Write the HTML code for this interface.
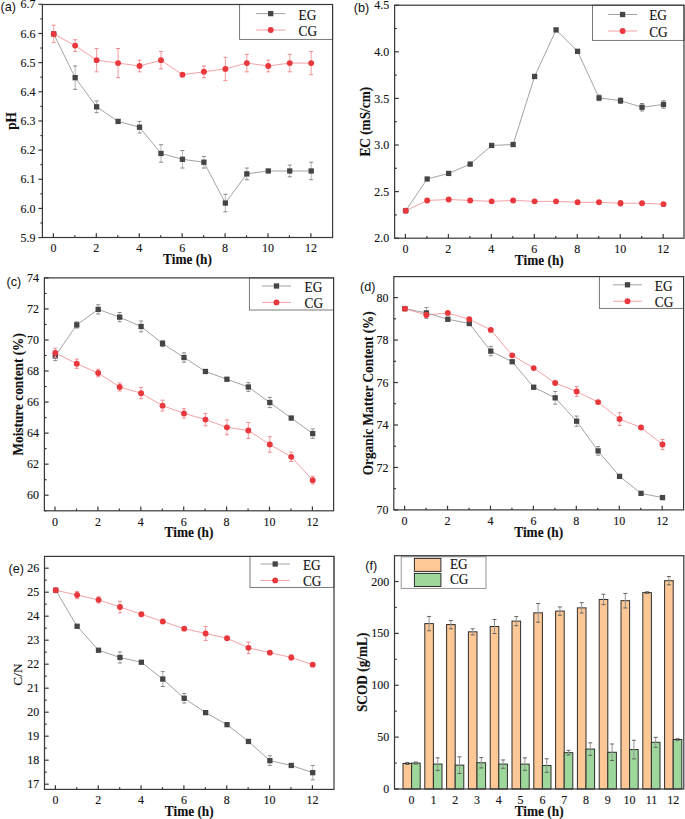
<!DOCTYPE html>
<html><head><meta charset="utf-8"><style>
html,body{margin:0;padding:0;background:#fff;}
body{width:685px;height:819px;overflow:hidden;font-family:"Liberation Serif", serif;}
svg{display:block;}
</style></head><body>
<svg width="685" height="819" viewBox="0 0 685 819">
<rect width="685" height="819" fill="#fff"/>
<line x1="38.4" y1="237.6" x2="42.4" y2="237.6" stroke="#383838" stroke-width="1.2"/>
<text x="0" y="0" font-size="12.0" text-anchor="end" font-weight="normal" font-family='"Liberation Serif", serif' fill="#111" stroke="#111" stroke-width="0.12" transform="translate(35.4 241.7) scale(1 1.12)">5.9</text>
<line x1="38.4" y1="208.44" x2="42.4" y2="208.44" stroke="#383838" stroke-width="1.2"/>
<text x="0" y="0" font-size="12.0" text-anchor="end" font-weight="normal" font-family='"Liberation Serif", serif' fill="#111" stroke="#111" stroke-width="0.12" transform="translate(35.4 212.54) scale(1 1.12)">6.0</text>
<line x1="38.4" y1="179.27" x2="42.4" y2="179.27" stroke="#383838" stroke-width="1.2"/>
<text x="0" y="0" font-size="12.0" text-anchor="end" font-weight="normal" font-family='"Liberation Serif", serif' fill="#111" stroke="#111" stroke-width="0.12" transform="translate(35.4 183.37) scale(1 1.12)">6.1</text>
<line x1="38.4" y1="150.11" x2="42.4" y2="150.11" stroke="#383838" stroke-width="1.2"/>
<text x="0" y="0" font-size="12.0" text-anchor="end" font-weight="normal" font-family='"Liberation Serif", serif' fill="#111" stroke="#111" stroke-width="0.12" transform="translate(35.4 154.21) scale(1 1.12)">6.2</text>
<line x1="38.4" y1="120.95" x2="42.4" y2="120.95" stroke="#383838" stroke-width="1.2"/>
<text x="0" y="0" font-size="12.0" text-anchor="end" font-weight="normal" font-family='"Liberation Serif", serif' fill="#111" stroke="#111" stroke-width="0.12" transform="translate(35.4 125.05) scale(1 1.12)">6.3</text>
<line x1="38.4" y1="91.79" x2="42.4" y2="91.79" stroke="#383838" stroke-width="1.2"/>
<text x="0" y="0" font-size="12.0" text-anchor="end" font-weight="normal" font-family='"Liberation Serif", serif' fill="#111" stroke="#111" stroke-width="0.12" transform="translate(35.4 95.89) scale(1 1.12)">6.4</text>
<line x1="38.4" y1="62.63" x2="42.4" y2="62.63" stroke="#383838" stroke-width="1.2"/>
<text x="0" y="0" font-size="12.0" text-anchor="end" font-weight="normal" font-family='"Liberation Serif", serif' fill="#111" stroke="#111" stroke-width="0.12" transform="translate(35.4 66.73) scale(1 1.12)">6.5</text>
<line x1="38.4" y1="33.46" x2="42.4" y2="33.46" stroke="#383838" stroke-width="1.2"/>
<text x="0" y="0" font-size="12.0" text-anchor="end" font-weight="normal" font-family='"Liberation Serif", serif' fill="#111" stroke="#111" stroke-width="0.12" transform="translate(35.4 37.56) scale(1 1.12)">6.6</text>
<line x1="38.4" y1="4.3" x2="42.4" y2="4.3" stroke="#383838" stroke-width="1.2"/>
<text x="0" y="0" font-size="12.0" text-anchor="end" font-weight="normal" font-family='"Liberation Serif", serif' fill="#111" stroke="#111" stroke-width="0.12" transform="translate(35.4 8.4) scale(1 1.12)">6.7</text>
<line x1="40.4" y1="223.02" x2="42.4" y2="223.02" stroke="#383838" stroke-width="1.2"/>
<line x1="40.4" y1="193.86" x2="42.4" y2="193.86" stroke="#383838" stroke-width="1.2"/>
<line x1="40.4" y1="164.69" x2="42.4" y2="164.69" stroke="#383838" stroke-width="1.2"/>
<line x1="40.4" y1="135.53" x2="42.4" y2="135.53" stroke="#383838" stroke-width="1.2"/>
<line x1="40.4" y1="106.37" x2="42.4" y2="106.37" stroke="#383838" stroke-width="1.2"/>
<line x1="40.4" y1="77.21" x2="42.4" y2="77.21" stroke="#383838" stroke-width="1.2"/>
<line x1="40.4" y1="48.04" x2="42.4" y2="48.04" stroke="#383838" stroke-width="1.2"/>
<line x1="40.4" y1="18.88" x2="42.4" y2="18.88" stroke="#383838" stroke-width="1.2"/>
<line x1="53.4" y1="237.5" x2="53.4" y2="233.3" stroke="#383838" stroke-width="1.2"/>
<line x1="74.86" y1="237.5" x2="74.86" y2="235.3" stroke="#383838" stroke-width="1.2"/>
<line x1="96.32" y1="237.5" x2="96.32" y2="233.3" stroke="#383838" stroke-width="1.2"/>
<line x1="117.78" y1="237.5" x2="117.78" y2="235.3" stroke="#383838" stroke-width="1.2"/>
<line x1="139.23" y1="237.5" x2="139.23" y2="233.3" stroke="#383838" stroke-width="1.2"/>
<line x1="160.69" y1="237.5" x2="160.69" y2="235.3" stroke="#383838" stroke-width="1.2"/>
<line x1="182.15" y1="237.5" x2="182.15" y2="233.3" stroke="#383838" stroke-width="1.2"/>
<line x1="203.61" y1="237.5" x2="203.61" y2="235.3" stroke="#383838" stroke-width="1.2"/>
<line x1="225.07" y1="237.5" x2="225.07" y2="233.3" stroke="#383838" stroke-width="1.2"/>
<line x1="246.53" y1="237.5" x2="246.53" y2="235.3" stroke="#383838" stroke-width="1.2"/>
<line x1="267.98" y1="237.5" x2="267.98" y2="233.3" stroke="#383838" stroke-width="1.2"/>
<line x1="289.44" y1="237.5" x2="289.44" y2="235.3" stroke="#383838" stroke-width="1.2"/>
<line x1="310.9" y1="237.5" x2="310.9" y2="233.3" stroke="#383838" stroke-width="1.2"/>
<text x="0" y="0" font-size="12.0" text-anchor="middle" font-weight="normal" font-family='"Liberation Serif", serif' fill="#111" stroke="#111" stroke-width="0.12" transform="translate(53.4 252.3) scale(1 1.12)">0</text>
<text x="0" y="0" font-size="12.0" text-anchor="middle" font-weight="normal" font-family='"Liberation Serif", serif' fill="#111" stroke="#111" stroke-width="0.12" transform="translate(96.32 252.3) scale(1 1.12)">2</text>
<text x="0" y="0" font-size="12.0" text-anchor="middle" font-weight="normal" font-family='"Liberation Serif", serif' fill="#111" stroke="#111" stroke-width="0.12" transform="translate(139.23 252.3) scale(1 1.12)">4</text>
<text x="0" y="0" font-size="12.0" text-anchor="middle" font-weight="normal" font-family='"Liberation Serif", serif' fill="#111" stroke="#111" stroke-width="0.12" transform="translate(182.15 252.3) scale(1 1.12)">6</text>
<text x="0" y="0" font-size="12.0" text-anchor="middle" font-weight="normal" font-family='"Liberation Serif", serif' fill="#111" stroke="#111" stroke-width="0.12" transform="translate(225.07 252.3) scale(1 1.12)">8</text>
<text x="0" y="0" font-size="12.0" text-anchor="middle" font-weight="normal" font-family='"Liberation Serif", serif' fill="#111" stroke="#111" stroke-width="0.12" transform="translate(267.98 252.3) scale(1 1.12)">10</text>
<text x="0" y="0" font-size="12.0" text-anchor="middle" font-weight="normal" font-family='"Liberation Serif", serif' fill="#111" stroke="#111" stroke-width="0.12" transform="translate(310.9 252.3) scale(1 1.12)">12</text>
<text x="0" y="0" font-size="13.3" text-anchor="middle" font-weight="bold" font-family='"Liberation Serif", serif' fill="#111" stroke="#111" stroke-width="0.1" transform="translate(187.5 264.1) scale(1 1.03)">Time (h)</text>
<rect x="239.6" y="4.5" width="93" height="34.9" fill="#fff" stroke="#6a6a6a" stroke-width="0.9"/>
<line x1="256" y1="13.6" x2="285.4" y2="13.6" stroke="#999999" stroke-width="0.9"/>
<rect x="268.05" y="10.95" width="5.3" height="5.3" fill="#454545"/>
<line x1="256" y1="30" x2="285.4" y2="30" stroke="#f08386" stroke-width="0.75"/>
<circle cx="270.7" cy="30" r="2.95" fill="#e8383d"/>
<text x="0" y="0" font-size="13.3" text-anchor="start" font-weight="normal" font-family='"Liberation Serif", serif' fill="#111" stroke="#111" stroke-width="0.12" transform="translate(298.6 19.5) scale(1 1.12)">EG</text>
<text x="0" y="0" font-size="13.3" text-anchor="start" font-weight="normal" font-family='"Liberation Serif", serif' fill="#111" stroke="#111" stroke-width="0.12" transform="translate(298.6 35.9) scale(1 1.12)">CG</text>
<polyline points="53.7,33.91 75.16,77.66 96.62,106.82 118.08,121.4 139.53,127.23 160.99,153.48 182.45,159.31 203.91,162.23 225.37,203.06 246.83,173.89 268.28,170.98 289.74,170.98 311.2,170.98" fill="none" stroke="#999999" stroke-width="0.9"/>
<line x1="75.16" y1="65.99" x2="75.16" y2="89.32" stroke="#bdbdbd" stroke-width="1.1"/>
<line x1="73.16" y1="65.99" x2="77.16" y2="65.99" stroke="#7a7a7a" stroke-width="0.9"/>
<line x1="73.16" y1="89.32" x2="77.16" y2="89.32" stroke="#7a7a7a" stroke-width="0.9"/>
<line x1="96.62" y1="100.99" x2="96.62" y2="112.65" stroke="#bdbdbd" stroke-width="1.1"/>
<line x1="94.62" y1="100.99" x2="98.62" y2="100.99" stroke="#7a7a7a" stroke-width="0.9"/>
<line x1="94.62" y1="112.65" x2="98.62" y2="112.65" stroke="#7a7a7a" stroke-width="0.9"/>
<line x1="118.08" y1="119.94" x2="118.08" y2="122.86" stroke="#bdbdbd" stroke-width="1.1"/>
<line x1="116.08" y1="119.94" x2="120.08" y2="119.94" stroke="#7a7a7a" stroke-width="0.9"/>
<line x1="116.08" y1="122.86" x2="120.08" y2="122.86" stroke="#7a7a7a" stroke-width="0.9"/>
<line x1="139.53" y1="121.4" x2="139.53" y2="133.06" stroke="#bdbdbd" stroke-width="1.1"/>
<line x1="137.53" y1="121.4" x2="141.53" y2="121.4" stroke="#7a7a7a" stroke-width="0.9"/>
<line x1="137.53" y1="133.06" x2="141.53" y2="133.06" stroke="#7a7a7a" stroke-width="0.9"/>
<line x1="160.99" y1="144.73" x2="160.99" y2="162.23" stroke="#bdbdbd" stroke-width="1.1"/>
<line x1="158.99" y1="144.73" x2="162.99" y2="144.73" stroke="#7a7a7a" stroke-width="0.9"/>
<line x1="158.99" y1="162.23" x2="162.99" y2="162.23" stroke="#7a7a7a" stroke-width="0.9"/>
<line x1="182.45" y1="150.56" x2="182.45" y2="168.06" stroke="#bdbdbd" stroke-width="1.1"/>
<line x1="180.45" y1="150.56" x2="184.45" y2="150.56" stroke="#7a7a7a" stroke-width="0.9"/>
<line x1="180.45" y1="168.06" x2="184.45" y2="168.06" stroke="#7a7a7a" stroke-width="0.9"/>
<line x1="203.91" y1="156.4" x2="203.91" y2="168.06" stroke="#bdbdbd" stroke-width="1.1"/>
<line x1="201.91" y1="156.4" x2="205.91" y2="156.4" stroke="#7a7a7a" stroke-width="0.9"/>
<line x1="201.91" y1="168.06" x2="205.91" y2="168.06" stroke="#7a7a7a" stroke-width="0.9"/>
<line x1="225.37" y1="194.31" x2="225.37" y2="211.8" stroke="#bdbdbd" stroke-width="1.1"/>
<line x1="223.37" y1="194.31" x2="227.37" y2="194.31" stroke="#7a7a7a" stroke-width="0.9"/>
<line x1="223.37" y1="211.8" x2="227.37" y2="211.8" stroke="#7a7a7a" stroke-width="0.9"/>
<line x1="246.83" y1="168.06" x2="246.83" y2="179.72" stroke="#bdbdbd" stroke-width="1.1"/>
<line x1="244.83" y1="168.06" x2="248.83" y2="168.06" stroke="#7a7a7a" stroke-width="0.9"/>
<line x1="244.83" y1="179.72" x2="248.83" y2="179.72" stroke="#7a7a7a" stroke-width="0.9"/>
<line x1="268.28" y1="169.52" x2="268.28" y2="172.43" stroke="#bdbdbd" stroke-width="1.1"/>
<line x1="266.28" y1="169.52" x2="270.28" y2="169.52" stroke="#7a7a7a" stroke-width="0.9"/>
<line x1="266.28" y1="172.43" x2="270.28" y2="172.43" stroke="#7a7a7a" stroke-width="0.9"/>
<line x1="289.74" y1="165.14" x2="289.74" y2="176.81" stroke="#bdbdbd" stroke-width="1.1"/>
<line x1="287.74" y1="165.14" x2="291.74" y2="165.14" stroke="#7a7a7a" stroke-width="0.9"/>
<line x1="287.74" y1="176.81" x2="291.74" y2="176.81" stroke="#7a7a7a" stroke-width="0.9"/>
<line x1="311.2" y1="162.23" x2="311.2" y2="179.73" stroke="#bdbdbd" stroke-width="1.1"/>
<line x1="309.2" y1="162.23" x2="313.2" y2="162.23" stroke="#7a7a7a" stroke-width="0.9"/>
<line x1="309.2" y1="179.73" x2="313.2" y2="179.73" stroke="#7a7a7a" stroke-width="0.9"/>
<rect x="51.05" y="31.26" width="5.3" height="5.3" fill="#454545"/>
<rect x="72.51" y="75.01" width="5.3" height="5.3" fill="#454545"/>
<rect x="93.97" y="104.17" width="5.3" height="5.3" fill="#454545"/>
<rect x="115.42" y="118.75" width="5.3" height="5.3" fill="#454545"/>
<rect x="136.88" y="124.58" width="5.3" height="5.3" fill="#454545"/>
<rect x="158.34" y="150.83" width="5.3" height="5.3" fill="#454545"/>
<rect x="179.8" y="156.66" width="5.3" height="5.3" fill="#454545"/>
<rect x="201.26" y="159.58" width="5.3" height="5.3" fill="#454545"/>
<rect x="222.72" y="200.41" width="5.3" height="5.3" fill="#454545"/>
<rect x="244.18" y="171.24" width="5.3" height="5.3" fill="#454545"/>
<rect x="265.63" y="168.33" width="5.3" height="5.3" fill="#454545"/>
<rect x="287.09" y="168.33" width="5.3" height="5.3" fill="#454545"/>
<rect x="308.55" y="168.33" width="5.3" height="5.3" fill="#454545"/>
<polyline points="53.7,33.91 75.16,45.58 96.62,60.16 118.08,63.08 139.53,65.99 160.99,60.16 182.45,74.74 203.91,71.82 225.37,68.91 246.83,63.08 268.28,65.99 289.74,63.08 311.2,63.08" fill="none" stroke="#f08386" stroke-width="0.75"/>
<line x1="53.7" y1="25.16" x2="53.7" y2="42.66" stroke="#f3a6a8" stroke-width="1.1"/>
<line x1="51.7" y1="25.16" x2="55.7" y2="25.16" stroke="#ee8085" stroke-width="0.9"/>
<line x1="51.7" y1="42.66" x2="55.7" y2="42.66" stroke="#ee8085" stroke-width="0.9"/>
<line x1="75.16" y1="39.75" x2="75.16" y2="51.41" stroke="#f3a6a8" stroke-width="1.1"/>
<line x1="73.16" y1="39.75" x2="77.16" y2="39.75" stroke="#ee8085" stroke-width="0.9"/>
<line x1="73.16" y1="51.41" x2="77.16" y2="51.41" stroke="#ee8085" stroke-width="0.9"/>
<line x1="96.62" y1="48.49" x2="96.62" y2="71.82" stroke="#f3a6a8" stroke-width="1.1"/>
<line x1="94.62" y1="48.49" x2="98.62" y2="48.49" stroke="#ee8085" stroke-width="0.9"/>
<line x1="94.62" y1="71.82" x2="98.62" y2="71.82" stroke="#ee8085" stroke-width="0.9"/>
<line x1="118.08" y1="48.49" x2="118.08" y2="77.66" stroke="#f3a6a8" stroke-width="1.1"/>
<line x1="116.08" y1="48.49" x2="120.08" y2="48.49" stroke="#ee8085" stroke-width="0.9"/>
<line x1="116.08" y1="77.66" x2="120.08" y2="77.66" stroke="#ee8085" stroke-width="0.9"/>
<line x1="139.53" y1="60.16" x2="139.53" y2="71.82" stroke="#f3a6a8" stroke-width="1.1"/>
<line x1="137.53" y1="60.16" x2="141.53" y2="60.16" stroke="#ee8085" stroke-width="0.9"/>
<line x1="137.53" y1="71.82" x2="141.53" y2="71.82" stroke="#ee8085" stroke-width="0.9"/>
<line x1="160.99" y1="51.41" x2="160.99" y2="68.91" stroke="#f3a6a8" stroke-width="1.1"/>
<line x1="158.99" y1="51.41" x2="162.99" y2="51.41" stroke="#ee8085" stroke-width="0.9"/>
<line x1="158.99" y1="68.91" x2="162.99" y2="68.91" stroke="#ee8085" stroke-width="0.9"/>
<line x1="203.91" y1="65.99" x2="203.91" y2="77.66" stroke="#f3a6a8" stroke-width="1.1"/>
<line x1="201.91" y1="65.99" x2="205.91" y2="65.99" stroke="#ee8085" stroke-width="0.9"/>
<line x1="201.91" y1="77.66" x2="205.91" y2="77.66" stroke="#ee8085" stroke-width="0.9"/>
<line x1="225.37" y1="57.24" x2="225.37" y2="80.57" stroke="#f3a6a8" stroke-width="1.1"/>
<line x1="223.37" y1="57.24" x2="227.37" y2="57.24" stroke="#ee8085" stroke-width="0.9"/>
<line x1="223.37" y1="80.57" x2="227.37" y2="80.57" stroke="#ee8085" stroke-width="0.9"/>
<line x1="246.83" y1="54.33" x2="246.83" y2="71.82" stroke="#f3a6a8" stroke-width="1.1"/>
<line x1="244.83" y1="54.33" x2="248.83" y2="54.33" stroke="#ee8085" stroke-width="0.9"/>
<line x1="244.83" y1="71.82" x2="248.83" y2="71.82" stroke="#ee8085" stroke-width="0.9"/>
<line x1="268.28" y1="60.16" x2="268.28" y2="71.82" stroke="#f3a6a8" stroke-width="1.1"/>
<line x1="266.28" y1="60.16" x2="270.28" y2="60.16" stroke="#ee8085" stroke-width="0.9"/>
<line x1="266.28" y1="71.82" x2="270.28" y2="71.82" stroke="#ee8085" stroke-width="0.9"/>
<line x1="289.74" y1="54.33" x2="289.74" y2="71.82" stroke="#f3a6a8" stroke-width="1.1"/>
<line x1="287.74" y1="54.33" x2="291.74" y2="54.33" stroke="#ee8085" stroke-width="0.9"/>
<line x1="287.74" y1="71.82" x2="291.74" y2="71.82" stroke="#ee8085" stroke-width="0.9"/>
<line x1="311.2" y1="51.41" x2="311.2" y2="74.74" stroke="#f3a6a8" stroke-width="1.1"/>
<line x1="309.2" y1="51.41" x2="313.2" y2="51.41" stroke="#ee8085" stroke-width="0.9"/>
<line x1="309.2" y1="74.74" x2="313.2" y2="74.74" stroke="#ee8085" stroke-width="0.9"/>
<circle cx="53.7" cy="33.91" r="2.95" fill="#e8383d"/>
<circle cx="75.16" cy="45.58" r="2.95" fill="#e8383d"/>
<circle cx="96.62" cy="60.16" r="2.95" fill="#e8383d"/>
<circle cx="118.08" cy="63.08" r="2.95" fill="#e8383d"/>
<circle cx="139.53" cy="65.99" r="2.95" fill="#e8383d"/>
<circle cx="160.99" cy="60.16" r="2.95" fill="#e8383d"/>
<circle cx="182.45" cy="74.74" r="2.95" fill="#e8383d"/>
<circle cx="203.91" cy="71.82" r="2.95" fill="#e8383d"/>
<circle cx="225.37" cy="68.91" r="2.95" fill="#e8383d"/>
<circle cx="246.83" cy="63.08" r="2.95" fill="#e8383d"/>
<circle cx="268.28" cy="65.99" r="2.95" fill="#e8383d"/>
<circle cx="289.74" cy="63.08" r="2.95" fill="#e8383d"/>
<circle cx="311.2" cy="63.08" r="2.95" fill="#e8383d"/>
<text x="0" y="0" font-size="12.6" text-anchor="start" font-weight="normal" font-family='"Liberation Sans", sans-serif' fill="#111" transform="translate(0.5 10.9) scale(1 1.0)">(a)</text>
<rect x="42.4" y="4.5" width="290.2" height="233" fill="none" stroke="#383838" stroke-width="1.2"/>
<text x="0" y="0" font-size="13.3" text-anchor="middle" font-weight="bold" font-family='"Liberation Serif", serif' fill="#111" stroke="#111" stroke-width="0.1" transform="translate(15.9 121) rotate(-90) scale(1 1.03)">pH</text>
<line x1="394.6" y1="238.2" x2="398.8" y2="238.2" stroke="#383838" stroke-width="1.2"/>
<text x="0" y="0" font-size="12.0" text-anchor="end" font-weight="normal" font-family='"Liberation Serif", serif' fill="#111" stroke="#111" stroke-width="0.12" transform="translate(389.3 242.3) scale(1 1.12)">2.0</text>
<line x1="394.6" y1="191.6" x2="398.8" y2="191.6" stroke="#383838" stroke-width="1.2"/>
<text x="0" y="0" font-size="12.0" text-anchor="end" font-weight="normal" font-family='"Liberation Serif", serif' fill="#111" stroke="#111" stroke-width="0.12" transform="translate(389.3 195.7) scale(1 1.12)">2.5</text>
<line x1="394.6" y1="145" x2="398.8" y2="145" stroke="#383838" stroke-width="1.2"/>
<text x="0" y="0" font-size="12.0" text-anchor="end" font-weight="normal" font-family='"Liberation Serif", serif' fill="#111" stroke="#111" stroke-width="0.12" transform="translate(389.3 149.1) scale(1 1.12)">3.0</text>
<line x1="394.6" y1="98.4" x2="398.8" y2="98.4" stroke="#383838" stroke-width="1.2"/>
<text x="0" y="0" font-size="12.0" text-anchor="end" font-weight="normal" font-family='"Liberation Serif", serif' fill="#111" stroke="#111" stroke-width="0.12" transform="translate(389.3 102.5) scale(1 1.12)">3.5</text>
<line x1="394.6" y1="51.8" x2="398.8" y2="51.8" stroke="#383838" stroke-width="1.2"/>
<text x="0" y="0" font-size="12.0" text-anchor="end" font-weight="normal" font-family='"Liberation Serif", serif' fill="#111" stroke="#111" stroke-width="0.12" transform="translate(389.3 55.9) scale(1 1.12)">4.0</text>
<line x1="394.6" y1="5.2" x2="398.8" y2="5.2" stroke="#383838" stroke-width="1.2"/>
<text x="0" y="0" font-size="12.0" text-anchor="end" font-weight="normal" font-family='"Liberation Serif", serif' fill="#111" stroke="#111" stroke-width="0.12" transform="translate(389.3 9.3) scale(1 1.12)">4.5</text>
<line x1="394.6" y1="214.9" x2="396.8" y2="214.9" stroke="#383838" stroke-width="1.2"/>
<line x1="394.6" y1="168.3" x2="396.8" y2="168.3" stroke="#383838" stroke-width="1.2"/>
<line x1="394.6" y1="121.7" x2="396.8" y2="121.7" stroke="#383838" stroke-width="1.2"/>
<line x1="394.6" y1="75.1" x2="396.8" y2="75.1" stroke="#383838" stroke-width="1.2"/>
<line x1="394.6" y1="28.5" x2="396.8" y2="28.5" stroke="#383838" stroke-width="1.2"/>
<line x1="405.4" y1="238.2" x2="405.4" y2="234" stroke="#383838" stroke-width="1.2"/>
<line x1="426.88" y1="238.2" x2="426.88" y2="236" stroke="#383838" stroke-width="1.2"/>
<line x1="448.37" y1="238.2" x2="448.37" y2="234" stroke="#383838" stroke-width="1.2"/>
<line x1="469.85" y1="238.2" x2="469.85" y2="236" stroke="#383838" stroke-width="1.2"/>
<line x1="491.33" y1="238.2" x2="491.33" y2="234" stroke="#383838" stroke-width="1.2"/>
<line x1="512.82" y1="238.2" x2="512.82" y2="236" stroke="#383838" stroke-width="1.2"/>
<line x1="534.3" y1="238.2" x2="534.3" y2="234" stroke="#383838" stroke-width="1.2"/>
<line x1="555.78" y1="238.2" x2="555.78" y2="236" stroke="#383838" stroke-width="1.2"/>
<line x1="577.27" y1="238.2" x2="577.27" y2="234" stroke="#383838" stroke-width="1.2"/>
<line x1="598.75" y1="238.2" x2="598.75" y2="236" stroke="#383838" stroke-width="1.2"/>
<line x1="620.23" y1="238.2" x2="620.23" y2="234" stroke="#383838" stroke-width="1.2"/>
<line x1="641.72" y1="238.2" x2="641.72" y2="236" stroke="#383838" stroke-width="1.2"/>
<line x1="663.2" y1="238.2" x2="663.2" y2="234" stroke="#383838" stroke-width="1.2"/>
<text x="0" y="0" font-size="12.0" text-anchor="middle" font-weight="normal" font-family='"Liberation Serif", serif' fill="#111" stroke="#111" stroke-width="0.12" transform="translate(405.4 253) scale(1 1.12)">0</text>
<text x="0" y="0" font-size="12.0" text-anchor="middle" font-weight="normal" font-family='"Liberation Serif", serif' fill="#111" stroke="#111" stroke-width="0.12" transform="translate(448.37 253) scale(1 1.12)">2</text>
<text x="0" y="0" font-size="12.0" text-anchor="middle" font-weight="normal" font-family='"Liberation Serif", serif' fill="#111" stroke="#111" stroke-width="0.12" transform="translate(491.33 253) scale(1 1.12)">4</text>
<text x="0" y="0" font-size="12.0" text-anchor="middle" font-weight="normal" font-family='"Liberation Serif", serif' fill="#111" stroke="#111" stroke-width="0.12" transform="translate(534.3 253) scale(1 1.12)">6</text>
<text x="0" y="0" font-size="12.0" text-anchor="middle" font-weight="normal" font-family='"Liberation Serif", serif' fill="#111" stroke="#111" stroke-width="0.12" transform="translate(577.27 253) scale(1 1.12)">8</text>
<text x="0" y="0" font-size="12.0" text-anchor="middle" font-weight="normal" font-family='"Liberation Serif", serif' fill="#111" stroke="#111" stroke-width="0.12" transform="translate(620.23 253) scale(1 1.12)">10</text>
<text x="0" y="0" font-size="12.0" text-anchor="middle" font-weight="normal" font-family='"Liberation Serif", serif' fill="#111" stroke="#111" stroke-width="0.12" transform="translate(663.2 253) scale(1 1.12)">12</text>
<text x="0" y="0" font-size="13.3" text-anchor="middle" font-weight="bold" font-family='"Liberation Serif", serif' fill="#111" stroke="#111" stroke-width="0.1" transform="translate(539.3 264.8) scale(1 1.03)">Time (h)</text>
<rect x="592.5" y="5.2" width="91.5" height="35.2" fill="#fff" stroke="#6a6a6a" stroke-width="0.9"/>
<line x1="608.1" y1="14.5" x2="637.1" y2="14.5" stroke="#999999" stroke-width="0.9"/>
<rect x="619.95" y="11.85" width="5.3" height="5.3" fill="#454545"/>
<line x1="608.1" y1="31" x2="637.1" y2="31" stroke="#f08386" stroke-width="0.75"/>
<circle cx="622.6" cy="31" r="2.95" fill="#e8383d"/>
<text x="0" y="0" font-size="13.3" text-anchor="start" font-weight="normal" font-family='"Liberation Serif", serif' fill="#111" stroke="#111" stroke-width="0.12" transform="translate(649.2 20.4) scale(1 1.12)">EG</text>
<text x="0" y="0" font-size="13.3" text-anchor="start" font-weight="normal" font-family='"Liberation Serif", serif' fill="#111" stroke="#111" stroke-width="0.12" transform="translate(649.2 36.9) scale(1 1.12)">CG</text>
<polyline points="405.7,210.69 427.18,179 448.67,173.41 470.15,164.09 491.63,145.45 513.12,144.52 534.6,76.48 556.08,29.88 577.57,51.32 599.05,97.92 620.53,100.71 642.02,107.24 663.5,104.44" fill="none" stroke="#999999" stroke-width="0.9"/>
<line x1="599.05" y1="95.12" x2="599.05" y2="100.71" stroke="#bdbdbd" stroke-width="1.1"/>
<line x1="597.05" y1="95.12" x2="601.05" y2="95.12" stroke="#7a7a7a" stroke-width="0.9"/>
<line x1="597.05" y1="100.71" x2="601.05" y2="100.71" stroke="#7a7a7a" stroke-width="0.9"/>
<line x1="620.53" y1="97.92" x2="620.53" y2="103.51" stroke="#bdbdbd" stroke-width="1.1"/>
<line x1="618.53" y1="97.92" x2="622.53" y2="97.92" stroke="#7a7a7a" stroke-width="0.9"/>
<line x1="618.53" y1="103.51" x2="622.53" y2="103.51" stroke="#7a7a7a" stroke-width="0.9"/>
<line x1="642.02" y1="103.51" x2="642.02" y2="110.97" stroke="#bdbdbd" stroke-width="1.1"/>
<line x1="640.02" y1="103.51" x2="644.02" y2="103.51" stroke="#7a7a7a" stroke-width="0.9"/>
<line x1="640.02" y1="110.97" x2="644.02" y2="110.97" stroke="#7a7a7a" stroke-width="0.9"/>
<line x1="663.5" y1="100.71" x2="663.5" y2="108.17" stroke="#bdbdbd" stroke-width="1.1"/>
<line x1="661.5" y1="100.71" x2="665.5" y2="100.71" stroke="#7a7a7a" stroke-width="0.9"/>
<line x1="661.5" y1="108.17" x2="665.5" y2="108.17" stroke="#7a7a7a" stroke-width="0.9"/>
<rect x="403.05" y="208.04" width="5.3" height="5.3" fill="#454545"/>
<rect x="424.53" y="176.35" width="5.3" height="5.3" fill="#454545"/>
<rect x="446.02" y="170.76" width="5.3" height="5.3" fill="#454545"/>
<rect x="467.5" y="161.44" width="5.3" height="5.3" fill="#454545"/>
<rect x="488.98" y="142.8" width="5.3" height="5.3" fill="#454545"/>
<rect x="510.47" y="141.87" width="5.3" height="5.3" fill="#454545"/>
<rect x="531.95" y="73.83" width="5.3" height="5.3" fill="#454545"/>
<rect x="553.43" y="27.23" width="5.3" height="5.3" fill="#454545"/>
<rect x="574.92" y="48.67" width="5.3" height="5.3" fill="#454545"/>
<rect x="596.4" y="95.27" width="5.3" height="5.3" fill="#454545"/>
<rect x="617.88" y="98.06" width="5.3" height="5.3" fill="#454545"/>
<rect x="639.37" y="104.59" width="5.3" height="5.3" fill="#454545"/>
<rect x="660.85" y="101.79" width="5.3" height="5.3" fill="#454545"/>
<polyline points="405.7,210.69 427.18,200.44 448.67,199.51 470.15,200.44 491.63,201.37 513.12,200.44 534.6,201.37 556.08,201.37 577.57,202.3 599.05,202.3 620.53,203.23 642.02,203.23 663.5,204.17" fill="none" stroke="#f08386" stroke-width="0.75"/>
<line x1="620.53" y1="200.44" x2="620.53" y2="206.03" stroke="#f3a6a8" stroke-width="1.1"/>
<line x1="618.53" y1="200.44" x2="622.53" y2="200.44" stroke="#ee8085" stroke-width="0.9"/>
<line x1="618.53" y1="206.03" x2="622.53" y2="206.03" stroke="#ee8085" stroke-width="0.9"/>
<circle cx="405.7" cy="210.69" r="2.95" fill="#e8383d"/>
<circle cx="427.18" cy="200.44" r="2.95" fill="#e8383d"/>
<circle cx="448.67" cy="199.51" r="2.95" fill="#e8383d"/>
<circle cx="470.15" cy="200.44" r="2.95" fill="#e8383d"/>
<circle cx="491.63" cy="201.37" r="2.95" fill="#e8383d"/>
<circle cx="513.12" cy="200.44" r="2.95" fill="#e8383d"/>
<circle cx="534.6" cy="201.37" r="2.95" fill="#e8383d"/>
<circle cx="556.08" cy="201.37" r="2.95" fill="#e8383d"/>
<circle cx="577.57" cy="202.3" r="2.95" fill="#e8383d"/>
<circle cx="599.05" cy="202.3" r="2.95" fill="#e8383d"/>
<circle cx="620.53" cy="203.23" r="2.95" fill="#e8383d"/>
<circle cx="642.02" cy="203.23" r="2.95" fill="#e8383d"/>
<circle cx="663.5" cy="204.17" r="2.95" fill="#e8383d"/>
<text x="0" y="0" font-size="12.6" text-anchor="start" font-weight="normal" font-family='"Liberation Sans", sans-serif' fill="#111" transform="translate(353.8 11.7) scale(1 1.0)">(b)</text>
<rect x="394.6" y="5.2" width="289.4" height="233" fill="none" stroke="#383838" stroke-width="1.2"/>
<text x="0" y="0" font-size="13.3" text-anchor="middle" font-weight="bold" font-family='"Liberation Serif", serif' fill="#111" stroke="#111" stroke-width="0.1" transform="translate(369.5 121.7) rotate(-90) scale(1 1.03)">EC (mS/cm)</text>
<line x1="44.4" y1="495.2" x2="48.6" y2="495.2" stroke="#383838" stroke-width="1.2"/>
<text x="0" y="0" font-size="12.0" text-anchor="end" font-weight="normal" font-family='"Liberation Serif", serif' fill="#111" stroke="#111" stroke-width="0.12" transform="translate(39.1 499.3) scale(1 1.12)">60</text>
<line x1="44.4" y1="464.16" x2="48.6" y2="464.16" stroke="#383838" stroke-width="1.2"/>
<text x="0" y="0" font-size="12.0" text-anchor="end" font-weight="normal" font-family='"Liberation Serif", serif' fill="#111" stroke="#111" stroke-width="0.12" transform="translate(39.1 468.26) scale(1 1.12)">62</text>
<line x1="44.4" y1="433.11" x2="48.6" y2="433.11" stroke="#383838" stroke-width="1.2"/>
<text x="0" y="0" font-size="12.0" text-anchor="end" font-weight="normal" font-family='"Liberation Serif", serif' fill="#111" stroke="#111" stroke-width="0.12" transform="translate(39.1 437.21) scale(1 1.12)">64</text>
<line x1="44.4" y1="402.07" x2="48.6" y2="402.07" stroke="#383838" stroke-width="1.2"/>
<text x="0" y="0" font-size="12.0" text-anchor="end" font-weight="normal" font-family='"Liberation Serif", serif' fill="#111" stroke="#111" stroke-width="0.12" transform="translate(39.1 406.17) scale(1 1.12)">66</text>
<line x1="44.4" y1="371.03" x2="48.6" y2="371.03" stroke="#383838" stroke-width="1.2"/>
<text x="0" y="0" font-size="12.0" text-anchor="end" font-weight="normal" font-family='"Liberation Serif", serif' fill="#111" stroke="#111" stroke-width="0.12" transform="translate(39.1 375.13) scale(1 1.12)">68</text>
<line x1="44.4" y1="339.99" x2="48.6" y2="339.99" stroke="#383838" stroke-width="1.2"/>
<text x="0" y="0" font-size="12.0" text-anchor="end" font-weight="normal" font-family='"Liberation Serif", serif' fill="#111" stroke="#111" stroke-width="0.12" transform="translate(39.1 344.09) scale(1 1.12)">70</text>
<line x1="44.4" y1="308.94" x2="48.6" y2="308.94" stroke="#383838" stroke-width="1.2"/>
<text x="0" y="0" font-size="12.0" text-anchor="end" font-weight="normal" font-family='"Liberation Serif", serif' fill="#111" stroke="#111" stroke-width="0.12" transform="translate(39.1 313.04) scale(1 1.12)">72</text>
<line x1="44.4" y1="277.9" x2="48.6" y2="277.9" stroke="#383838" stroke-width="1.2"/>
<text x="0" y="0" font-size="12.0" text-anchor="end" font-weight="normal" font-family='"Liberation Serif", serif' fill="#111" stroke="#111" stroke-width="0.12" transform="translate(39.1 282) scale(1 1.12)">74</text>
<line x1="44.4" y1="510.72" x2="46.6" y2="510.72" stroke="#383838" stroke-width="1.2"/>
<line x1="44.4" y1="479.68" x2="46.6" y2="479.68" stroke="#383838" stroke-width="1.2"/>
<line x1="44.4" y1="448.64" x2="46.6" y2="448.64" stroke="#383838" stroke-width="1.2"/>
<line x1="44.4" y1="417.59" x2="46.6" y2="417.59" stroke="#383838" stroke-width="1.2"/>
<line x1="44.4" y1="386.55" x2="46.6" y2="386.55" stroke="#383838" stroke-width="1.2"/>
<line x1="44.4" y1="355.51" x2="46.6" y2="355.51" stroke="#383838" stroke-width="1.2"/>
<line x1="44.4" y1="324.46" x2="46.6" y2="324.46" stroke="#383838" stroke-width="1.2"/>
<line x1="44.4" y1="293.42" x2="46.6" y2="293.42" stroke="#383838" stroke-width="1.2"/>
<line x1="55" y1="510.8" x2="55" y2="506.6" stroke="#383838" stroke-width="1.2"/>
<line x1="76.45" y1="510.8" x2="76.45" y2="508.6" stroke="#383838" stroke-width="1.2"/>
<line x1="97.9" y1="510.8" x2="97.9" y2="506.6" stroke="#383838" stroke-width="1.2"/>
<line x1="119.35" y1="510.8" x2="119.35" y2="508.6" stroke="#383838" stroke-width="1.2"/>
<line x1="140.8" y1="510.8" x2="140.8" y2="506.6" stroke="#383838" stroke-width="1.2"/>
<line x1="162.25" y1="510.8" x2="162.25" y2="508.6" stroke="#383838" stroke-width="1.2"/>
<line x1="183.7" y1="510.8" x2="183.7" y2="506.6" stroke="#383838" stroke-width="1.2"/>
<line x1="205.15" y1="510.8" x2="205.15" y2="508.6" stroke="#383838" stroke-width="1.2"/>
<line x1="226.6" y1="510.8" x2="226.6" y2="506.6" stroke="#383838" stroke-width="1.2"/>
<line x1="248.05" y1="510.8" x2="248.05" y2="508.6" stroke="#383838" stroke-width="1.2"/>
<line x1="269.5" y1="510.8" x2="269.5" y2="506.6" stroke="#383838" stroke-width="1.2"/>
<line x1="290.95" y1="510.8" x2="290.95" y2="508.6" stroke="#383838" stroke-width="1.2"/>
<line x1="312.4" y1="510.8" x2="312.4" y2="506.6" stroke="#383838" stroke-width="1.2"/>
<text x="0" y="0" font-size="12.0" text-anchor="middle" font-weight="normal" font-family='"Liberation Serif", serif' fill="#111" stroke="#111" stroke-width="0.12" transform="translate(55 525.6) scale(1 1.12)">0</text>
<text x="0" y="0" font-size="12.0" text-anchor="middle" font-weight="normal" font-family='"Liberation Serif", serif' fill="#111" stroke="#111" stroke-width="0.12" transform="translate(97.9 525.6) scale(1 1.12)">2</text>
<text x="0" y="0" font-size="12.0" text-anchor="middle" font-weight="normal" font-family='"Liberation Serif", serif' fill="#111" stroke="#111" stroke-width="0.12" transform="translate(140.8 525.6) scale(1 1.12)">4</text>
<text x="0" y="0" font-size="12.0" text-anchor="middle" font-weight="normal" font-family='"Liberation Serif", serif' fill="#111" stroke="#111" stroke-width="0.12" transform="translate(183.7 525.6) scale(1 1.12)">6</text>
<text x="0" y="0" font-size="12.0" text-anchor="middle" font-weight="normal" font-family='"Liberation Serif", serif' fill="#111" stroke="#111" stroke-width="0.12" transform="translate(226.6 525.6) scale(1 1.12)">8</text>
<text x="0" y="0" font-size="12.0" text-anchor="middle" font-weight="normal" font-family='"Liberation Serif", serif' fill="#111" stroke="#111" stroke-width="0.12" transform="translate(269.5 525.6) scale(1 1.12)">10</text>
<text x="0" y="0" font-size="12.0" text-anchor="middle" font-weight="normal" font-family='"Liberation Serif", serif' fill="#111" stroke="#111" stroke-width="0.12" transform="translate(312.4 525.6) scale(1 1.12)">12</text>
<text x="0" y="0" font-size="13.3" text-anchor="middle" font-weight="bold" font-family='"Liberation Serif", serif' fill="#111" stroke="#111" stroke-width="0.1" transform="translate(189 537.4) scale(1 1.03)">Time (h)</text>
<rect x="249.4" y="277.9" width="84.2" height="32.1" fill="#fff" stroke="#6a6a6a" stroke-width="0.9"/>
<line x1="262" y1="286" x2="291" y2="286" stroke="#999999" stroke-width="0.9"/>
<rect x="273.85" y="283.35" width="5.3" height="5.3" fill="#454545"/>
<line x1="262" y1="302.4" x2="291" y2="302.4" stroke="#f08386" stroke-width="0.75"/>
<circle cx="276.5" cy="302.4" r="2.95" fill="#e8383d"/>
<text x="0" y="0" font-size="13.3" text-anchor="start" font-weight="normal" font-family='"Liberation Serif", serif' fill="#111" stroke="#111" stroke-width="0.12" transform="translate(304.6 291.9) scale(1 1.12)">EG</text>
<text x="0" y="0" font-size="13.3" text-anchor="start" font-weight="normal" font-family='"Liberation Serif", serif' fill="#111" stroke="#111" stroke-width="0.12" transform="translate(304.6 308.3) scale(1 1.12)">CG</text>
<polyline points="55.3,355.96 76.75,324.91 98.2,309.39 119.65,317.15 141.1,326.47 162.55,343.54 184,357.51 205.45,371.48 226.9,379.24 248.35,387 269.8,402.52 291.25,418.04 312.7,433.56" fill="none" stroke="#999999" stroke-width="0.9"/>
<line x1="55.3" y1="351.3" x2="55.3" y2="360.61" stroke="#bdbdbd" stroke-width="1.1"/>
<line x1="53.3" y1="351.3" x2="57.3" y2="351.3" stroke="#7a7a7a" stroke-width="0.9"/>
<line x1="53.3" y1="360.61" x2="57.3" y2="360.61" stroke="#7a7a7a" stroke-width="0.9"/>
<line x1="76.75" y1="321.81" x2="76.75" y2="328.02" stroke="#bdbdbd" stroke-width="1.1"/>
<line x1="74.75" y1="321.81" x2="78.75" y2="321.81" stroke="#7a7a7a" stroke-width="0.9"/>
<line x1="74.75" y1="328.02" x2="78.75" y2="328.02" stroke="#7a7a7a" stroke-width="0.9"/>
<line x1="98.2" y1="304.74" x2="98.2" y2="314.05" stroke="#bdbdbd" stroke-width="1.1"/>
<line x1="96.2" y1="304.74" x2="100.2" y2="304.74" stroke="#7a7a7a" stroke-width="0.9"/>
<line x1="96.2" y1="314.05" x2="100.2" y2="314.05" stroke="#7a7a7a" stroke-width="0.9"/>
<line x1="119.65" y1="312.5" x2="119.65" y2="321.81" stroke="#bdbdbd" stroke-width="1.1"/>
<line x1="117.65" y1="312.5" x2="121.65" y2="312.5" stroke="#7a7a7a" stroke-width="0.9"/>
<line x1="117.65" y1="321.81" x2="121.65" y2="321.81" stroke="#7a7a7a" stroke-width="0.9"/>
<line x1="141.1" y1="321.03" x2="141.1" y2="331.9" stroke="#bdbdbd" stroke-width="1.1"/>
<line x1="139.1" y1="321.03" x2="143.1" y2="321.03" stroke="#7a7a7a" stroke-width="0.9"/>
<line x1="139.1" y1="331.9" x2="143.1" y2="331.9" stroke="#7a7a7a" stroke-width="0.9"/>
<line x1="162.55" y1="340.44" x2="162.55" y2="346.64" stroke="#bdbdbd" stroke-width="1.1"/>
<line x1="160.55" y1="340.44" x2="164.55" y2="340.44" stroke="#7a7a7a" stroke-width="0.9"/>
<line x1="160.55" y1="346.64" x2="164.55" y2="346.64" stroke="#7a7a7a" stroke-width="0.9"/>
<line x1="184" y1="352.85" x2="184" y2="362.17" stroke="#bdbdbd" stroke-width="1.1"/>
<line x1="182" y1="352.85" x2="186" y2="352.85" stroke="#7a7a7a" stroke-width="0.9"/>
<line x1="182" y1="362.17" x2="186" y2="362.17" stroke="#7a7a7a" stroke-width="0.9"/>
<line x1="226.9" y1="377.69" x2="226.9" y2="380.79" stroke="#bdbdbd" stroke-width="1.1"/>
<line x1="224.9" y1="377.69" x2="228.9" y2="377.69" stroke="#7a7a7a" stroke-width="0.9"/>
<line x1="224.9" y1="380.79" x2="228.9" y2="380.79" stroke="#7a7a7a" stroke-width="0.9"/>
<line x1="248.35" y1="382.65" x2="248.35" y2="391.35" stroke="#bdbdbd" stroke-width="1.1"/>
<line x1="246.35" y1="382.65" x2="250.35" y2="382.65" stroke="#7a7a7a" stroke-width="0.9"/>
<line x1="246.35" y1="391.35" x2="250.35" y2="391.35" stroke="#7a7a7a" stroke-width="0.9"/>
<line x1="269.8" y1="397.4" x2="269.8" y2="407.64" stroke="#bdbdbd" stroke-width="1.1"/>
<line x1="267.8" y1="397.4" x2="271.8" y2="397.4" stroke="#7a7a7a" stroke-width="0.9"/>
<line x1="267.8" y1="407.64" x2="271.8" y2="407.64" stroke="#7a7a7a" stroke-width="0.9"/>
<line x1="312.7" y1="428.91" x2="312.7" y2="438.22" stroke="#bdbdbd" stroke-width="1.1"/>
<line x1="310.7" y1="428.91" x2="314.7" y2="428.91" stroke="#7a7a7a" stroke-width="0.9"/>
<line x1="310.7" y1="438.22" x2="314.7" y2="438.22" stroke="#7a7a7a" stroke-width="0.9"/>
<rect x="52.65" y="353.31" width="5.3" height="5.3" fill="#454545"/>
<rect x="74.1" y="322.26" width="5.3" height="5.3" fill="#454545"/>
<rect x="95.55" y="306.74" width="5.3" height="5.3" fill="#454545"/>
<rect x="117" y="314.5" width="5.3" height="5.3" fill="#454545"/>
<rect x="138.45" y="323.82" width="5.3" height="5.3" fill="#454545"/>
<rect x="159.9" y="340.89" width="5.3" height="5.3" fill="#454545"/>
<rect x="181.35" y="354.86" width="5.3" height="5.3" fill="#454545"/>
<rect x="202.8" y="368.83" width="5.3" height="5.3" fill="#454545"/>
<rect x="224.25" y="376.59" width="5.3" height="5.3" fill="#454545"/>
<rect x="245.7" y="384.35" width="5.3" height="5.3" fill="#454545"/>
<rect x="267.15" y="399.87" width="5.3" height="5.3" fill="#454545"/>
<rect x="288.6" y="415.39" width="5.3" height="5.3" fill="#454545"/>
<rect x="310.05" y="430.91" width="5.3" height="5.3" fill="#454545"/>
<polyline points="55.3,352.85 76.75,363.72 98.2,373.03 119.65,387 141.1,393.21 162.55,405.63 184,413.39 205.45,419.59 226.9,427.36 248.35,430.46 269.8,444.43 291.25,456.85 312.7,480.13" fill="none" stroke="#f08386" stroke-width="0.75"/>
<line x1="55.3" y1="348.2" x2="55.3" y2="357.51" stroke="#f3a6a8" stroke-width="1.1"/>
<line x1="53.3" y1="348.2" x2="57.3" y2="348.2" stroke="#ee8085" stroke-width="0.9"/>
<line x1="53.3" y1="357.51" x2="57.3" y2="357.51" stroke="#ee8085" stroke-width="0.9"/>
<line x1="76.75" y1="359.06" x2="76.75" y2="368.37" stroke="#f3a6a8" stroke-width="1.1"/>
<line x1="74.75" y1="359.06" x2="78.75" y2="359.06" stroke="#ee8085" stroke-width="0.9"/>
<line x1="74.75" y1="368.37" x2="78.75" y2="368.37" stroke="#ee8085" stroke-width="0.9"/>
<line x1="98.2" y1="369.31" x2="98.2" y2="376.76" stroke="#f3a6a8" stroke-width="1.1"/>
<line x1="96.2" y1="369.31" x2="100.2" y2="369.31" stroke="#ee8085" stroke-width="0.9"/>
<line x1="96.2" y1="376.76" x2="100.2" y2="376.76" stroke="#ee8085" stroke-width="0.9"/>
<line x1="119.65" y1="382.96" x2="119.65" y2="391.04" stroke="#f3a6a8" stroke-width="1.1"/>
<line x1="117.65" y1="382.96" x2="121.65" y2="382.96" stroke="#ee8085" stroke-width="0.9"/>
<line x1="117.65" y1="391.04" x2="121.65" y2="391.04" stroke="#ee8085" stroke-width="0.9"/>
<line x1="141.1" y1="387.62" x2="141.1" y2="398.8" stroke="#f3a6a8" stroke-width="1.1"/>
<line x1="139.1" y1="387.62" x2="143.1" y2="387.62" stroke="#ee8085" stroke-width="0.9"/>
<line x1="139.1" y1="398.8" x2="143.1" y2="398.8" stroke="#ee8085" stroke-width="0.9"/>
<line x1="162.55" y1="400.19" x2="162.55" y2="411.06" stroke="#f3a6a8" stroke-width="1.1"/>
<line x1="160.55" y1="400.19" x2="164.55" y2="400.19" stroke="#ee8085" stroke-width="0.9"/>
<line x1="160.55" y1="411.06" x2="164.55" y2="411.06" stroke="#ee8085" stroke-width="0.9"/>
<line x1="184" y1="408.73" x2="184" y2="418.04" stroke="#f3a6a8" stroke-width="1.1"/>
<line x1="182" y1="408.73" x2="186" y2="408.73" stroke="#ee8085" stroke-width="0.9"/>
<line x1="182" y1="418.04" x2="186" y2="418.04" stroke="#ee8085" stroke-width="0.9"/>
<line x1="205.45" y1="413.39" x2="205.45" y2="425.8" stroke="#f3a6a8" stroke-width="1.1"/>
<line x1="203.45" y1="413.39" x2="207.45" y2="413.39" stroke="#ee8085" stroke-width="0.9"/>
<line x1="203.45" y1="425.8" x2="207.45" y2="425.8" stroke="#ee8085" stroke-width="0.9"/>
<line x1="226.9" y1="419.91" x2="226.9" y2="434.81" stroke="#f3a6a8" stroke-width="1.1"/>
<line x1="224.9" y1="419.91" x2="228.9" y2="419.91" stroke="#ee8085" stroke-width="0.9"/>
<line x1="224.9" y1="434.81" x2="228.9" y2="434.81" stroke="#ee8085" stroke-width="0.9"/>
<line x1="248.35" y1="422.39" x2="248.35" y2="438.53" stroke="#f3a6a8" stroke-width="1.1"/>
<line x1="246.35" y1="422.39" x2="250.35" y2="422.39" stroke="#ee8085" stroke-width="0.9"/>
<line x1="246.35" y1="438.53" x2="250.35" y2="438.53" stroke="#ee8085" stroke-width="0.9"/>
<line x1="269.8" y1="436.67" x2="269.8" y2="452.19" stroke="#f3a6a8" stroke-width="1.1"/>
<line x1="267.8" y1="436.67" x2="271.8" y2="436.67" stroke="#ee8085" stroke-width="0.9"/>
<line x1="267.8" y1="452.19" x2="271.8" y2="452.19" stroke="#ee8085" stroke-width="0.9"/>
<line x1="291.25" y1="452.19" x2="291.25" y2="461.5" stroke="#f3a6a8" stroke-width="1.1"/>
<line x1="289.25" y1="452.19" x2="293.25" y2="452.19" stroke="#ee8085" stroke-width="0.9"/>
<line x1="289.25" y1="461.5" x2="293.25" y2="461.5" stroke="#ee8085" stroke-width="0.9"/>
<line x1="312.7" y1="476.25" x2="312.7" y2="484.01" stroke="#f3a6a8" stroke-width="1.1"/>
<line x1="310.7" y1="476.25" x2="314.7" y2="476.25" stroke="#ee8085" stroke-width="0.9"/>
<line x1="310.7" y1="484.01" x2="314.7" y2="484.01" stroke="#ee8085" stroke-width="0.9"/>
<circle cx="55.3" cy="352.85" r="2.95" fill="#e8383d"/>
<circle cx="76.75" cy="363.72" r="2.95" fill="#e8383d"/>
<circle cx="98.2" cy="373.03" r="2.95" fill="#e8383d"/>
<circle cx="119.65" cy="387" r="2.95" fill="#e8383d"/>
<circle cx="141.1" cy="393.21" r="2.95" fill="#e8383d"/>
<circle cx="162.55" cy="405.63" r="2.95" fill="#e8383d"/>
<circle cx="184" cy="413.39" r="2.95" fill="#e8383d"/>
<circle cx="205.45" cy="419.59" r="2.95" fill="#e8383d"/>
<circle cx="226.9" cy="427.36" r="2.95" fill="#e8383d"/>
<circle cx="248.35" cy="430.46" r="2.95" fill="#e8383d"/>
<circle cx="269.8" cy="444.43" r="2.95" fill="#e8383d"/>
<circle cx="291.25" cy="456.85" r="2.95" fill="#e8383d"/>
<circle cx="312.7" cy="480.13" r="2.95" fill="#e8383d"/>
<text x="0" y="0" font-size="12.6" text-anchor="start" font-weight="normal" font-family='"Liberation Sans", sans-serif' fill="#111" transform="translate(6.5 286) scale(1 1.0)">(c)</text>
<rect x="44.4" y="277.9" width="289.2" height="232.9" fill="none" stroke="#383838" stroke-width="1.2"/>
<text x="0" y="0" font-size="13.3" text-anchor="middle" font-weight="bold" font-family='"Liberation Serif", serif' fill="#111" stroke="#111" stroke-width="0.1" transform="translate(22.8 394.35) rotate(-90) scale(1 1.03)">Moisture content (%)</text>
<line x1="393.8" y1="509.9" x2="398" y2="509.9" stroke="#383838" stroke-width="1.2"/>
<text x="0" y="0" font-size="12.0" text-anchor="end" font-weight="normal" font-family='"Liberation Serif", serif' fill="#111" stroke="#111" stroke-width="0.12" transform="translate(388.5 514) scale(1 1.12)">70</text>
<line x1="393.8" y1="467.44" x2="398" y2="467.44" stroke="#383838" stroke-width="1.2"/>
<text x="0" y="0" font-size="12.0" text-anchor="end" font-weight="normal" font-family='"Liberation Serif", serif' fill="#111" stroke="#111" stroke-width="0.12" transform="translate(388.5 471.54) scale(1 1.12)">72</text>
<line x1="393.8" y1="424.98" x2="398" y2="424.98" stroke="#383838" stroke-width="1.2"/>
<text x="0" y="0" font-size="12.0" text-anchor="end" font-weight="normal" font-family='"Liberation Serif", serif' fill="#111" stroke="#111" stroke-width="0.12" transform="translate(388.5 429.08) scale(1 1.12)">74</text>
<line x1="393.8" y1="382.52" x2="398" y2="382.52" stroke="#383838" stroke-width="1.2"/>
<text x="0" y="0" font-size="12.0" text-anchor="end" font-weight="normal" font-family='"Liberation Serif", serif' fill="#111" stroke="#111" stroke-width="0.12" transform="translate(388.5 386.62) scale(1 1.12)">76</text>
<line x1="393.8" y1="340.06" x2="398" y2="340.06" stroke="#383838" stroke-width="1.2"/>
<text x="0" y="0" font-size="12.0" text-anchor="end" font-weight="normal" font-family='"Liberation Serif", serif' fill="#111" stroke="#111" stroke-width="0.12" transform="translate(388.5 344.16) scale(1 1.12)">78</text>
<line x1="393.8" y1="297.6" x2="398" y2="297.6" stroke="#383838" stroke-width="1.2"/>
<text x="0" y="0" font-size="12.0" text-anchor="end" font-weight="normal" font-family='"Liberation Serif", serif' fill="#111" stroke="#111" stroke-width="0.12" transform="translate(388.5 301.7) scale(1 1.12)">80</text>
<line x1="393.8" y1="488.67" x2="396" y2="488.67" stroke="#383838" stroke-width="1.2"/>
<line x1="393.8" y1="446.21" x2="396" y2="446.21" stroke="#383838" stroke-width="1.2"/>
<line x1="393.8" y1="403.75" x2="396" y2="403.75" stroke="#383838" stroke-width="1.2"/>
<line x1="393.8" y1="361.29" x2="396" y2="361.29" stroke="#383838" stroke-width="1.2"/>
<line x1="393.8" y1="318.83" x2="396" y2="318.83" stroke="#383838" stroke-width="1.2"/>
<line x1="404.6" y1="509.9" x2="404.6" y2="505.7" stroke="#383838" stroke-width="1.2"/>
<line x1="426.07" y1="509.9" x2="426.07" y2="507.7" stroke="#383838" stroke-width="1.2"/>
<line x1="447.53" y1="509.9" x2="447.53" y2="505.7" stroke="#383838" stroke-width="1.2"/>
<line x1="469" y1="509.9" x2="469" y2="507.7" stroke="#383838" stroke-width="1.2"/>
<line x1="490.47" y1="509.9" x2="490.47" y2="505.7" stroke="#383838" stroke-width="1.2"/>
<line x1="511.93" y1="509.9" x2="511.93" y2="507.7" stroke="#383838" stroke-width="1.2"/>
<line x1="533.4" y1="509.9" x2="533.4" y2="505.7" stroke="#383838" stroke-width="1.2"/>
<line x1="554.87" y1="509.9" x2="554.87" y2="507.7" stroke="#383838" stroke-width="1.2"/>
<line x1="576.33" y1="509.9" x2="576.33" y2="505.7" stroke="#383838" stroke-width="1.2"/>
<line x1="597.8" y1="509.9" x2="597.8" y2="507.7" stroke="#383838" stroke-width="1.2"/>
<line x1="619.27" y1="509.9" x2="619.27" y2="505.7" stroke="#383838" stroke-width="1.2"/>
<line x1="640.73" y1="509.9" x2="640.73" y2="507.7" stroke="#383838" stroke-width="1.2"/>
<line x1="662.2" y1="509.9" x2="662.2" y2="505.7" stroke="#383838" stroke-width="1.2"/>
<text x="0" y="0" font-size="12.0" text-anchor="middle" font-weight="normal" font-family='"Liberation Serif", serif' fill="#111" stroke="#111" stroke-width="0.12" transform="translate(404.6 524.7) scale(1 1.12)">0</text>
<text x="0" y="0" font-size="12.0" text-anchor="middle" font-weight="normal" font-family='"Liberation Serif", serif' fill="#111" stroke="#111" stroke-width="0.12" transform="translate(447.53 524.7) scale(1 1.12)">2</text>
<text x="0" y="0" font-size="12.0" text-anchor="middle" font-weight="normal" font-family='"Liberation Serif", serif' fill="#111" stroke="#111" stroke-width="0.12" transform="translate(490.47 524.7) scale(1 1.12)">4</text>
<text x="0" y="0" font-size="12.0" text-anchor="middle" font-weight="normal" font-family='"Liberation Serif", serif' fill="#111" stroke="#111" stroke-width="0.12" transform="translate(533.4 524.7) scale(1 1.12)">6</text>
<text x="0" y="0" font-size="12.0" text-anchor="middle" font-weight="normal" font-family='"Liberation Serif", serif' fill="#111" stroke="#111" stroke-width="0.12" transform="translate(576.33 524.7) scale(1 1.12)">8</text>
<text x="0" y="0" font-size="12.0" text-anchor="middle" font-weight="normal" font-family='"Liberation Serif", serif' fill="#111" stroke="#111" stroke-width="0.12" transform="translate(619.27 524.7) scale(1 1.12)">10</text>
<text x="0" y="0" font-size="12.0" text-anchor="middle" font-weight="normal" font-family='"Liberation Serif", serif' fill="#111" stroke="#111" stroke-width="0.12" transform="translate(662.2 524.7) scale(1 1.12)">12</text>
<text x="0" y="0" font-size="13.3" text-anchor="middle" font-weight="bold" font-family='"Liberation Serif", serif' fill="#111" stroke="#111" stroke-width="0.1" transform="translate(538.7 536.5) scale(1 1.03)">Time (h)</text>
<rect x="599.4" y="276.6" width="84.2" height="31.8" fill="#fff" stroke="#6a6a6a" stroke-width="0.9"/>
<line x1="613" y1="284.8" x2="642" y2="284.8" stroke="#999999" stroke-width="0.9"/>
<rect x="624.85" y="282.15" width="5.3" height="5.3" fill="#454545"/>
<line x1="613" y1="301.2" x2="642" y2="301.2" stroke="#f08386" stroke-width="0.75"/>
<circle cx="627.5" cy="301.2" r="2.95" fill="#e8383d"/>
<text x="0" y="0" font-size="13.3" text-anchor="start" font-weight="normal" font-family='"Liberation Serif", serif' fill="#111" stroke="#111" stroke-width="0.12" transform="translate(654.8 290.7) scale(1 1.12)">EG</text>
<text x="0" y="0" font-size="13.3" text-anchor="start" font-weight="normal" font-family='"Liberation Serif", serif' fill="#111" stroke="#111" stroke-width="0.12" transform="translate(654.8 307.1) scale(1 1.12)">CG</text>
<polyline points="404.9,308.67 426.37,312.91 447.83,319.28 469.3,323.53 490.77,351.12 512.23,361.74 533.7,387.22 555.17,397.83 576.63,421.18 598.1,450.91 619.57,476.38 641.03,493.37 662.5,497.61" fill="none" stroke="#999999" stroke-width="0.9"/>
<line x1="426.37" y1="307.6" x2="426.37" y2="318.22" stroke="#bdbdbd" stroke-width="1.1"/>
<line x1="424.37" y1="307.6" x2="428.37" y2="307.6" stroke="#7a7a7a" stroke-width="0.9"/>
<line x1="424.37" y1="318.22" x2="428.37" y2="318.22" stroke="#7a7a7a" stroke-width="0.9"/>
<line x1="490.77" y1="346.45" x2="490.77" y2="355.8" stroke="#bdbdbd" stroke-width="1.1"/>
<line x1="488.77" y1="346.45" x2="492.77" y2="346.45" stroke="#7a7a7a" stroke-width="0.9"/>
<line x1="488.77" y1="355.8" x2="492.77" y2="355.8" stroke="#7a7a7a" stroke-width="0.9"/>
<line x1="555.17" y1="391.46" x2="555.17" y2="404.2" stroke="#bdbdbd" stroke-width="1.1"/>
<line x1="553.17" y1="391.46" x2="557.17" y2="391.46" stroke="#7a7a7a" stroke-width="0.9"/>
<line x1="553.17" y1="404.2" x2="557.17" y2="404.2" stroke="#7a7a7a" stroke-width="0.9"/>
<line x1="576.63" y1="416.09" x2="576.63" y2="426.28" stroke="#bdbdbd" stroke-width="1.1"/>
<line x1="574.63" y1="416.09" x2="578.63" y2="416.09" stroke="#7a7a7a" stroke-width="0.9"/>
<line x1="574.63" y1="426.28" x2="578.63" y2="426.28" stroke="#7a7a7a" stroke-width="0.9"/>
<line x1="598.1" y1="446.66" x2="598.1" y2="455.15" stroke="#bdbdbd" stroke-width="1.1"/>
<line x1="596.1" y1="446.66" x2="600.1" y2="446.66" stroke="#7a7a7a" stroke-width="0.9"/>
<line x1="596.1" y1="455.15" x2="600.1" y2="455.15" stroke="#7a7a7a" stroke-width="0.9"/>
<rect x="402.25" y="306.02" width="5.3" height="5.3" fill="#454545"/>
<rect x="423.72" y="310.26" width="5.3" height="5.3" fill="#454545"/>
<rect x="445.18" y="316.63" width="5.3" height="5.3" fill="#454545"/>
<rect x="466.65" y="320.88" width="5.3" height="5.3" fill="#454545"/>
<rect x="488.12" y="348.48" width="5.3" height="5.3" fill="#454545"/>
<rect x="509.58" y="359.09" width="5.3" height="5.3" fill="#454545"/>
<rect x="531.05" y="384.57" width="5.3" height="5.3" fill="#454545"/>
<rect x="552.52" y="395.18" width="5.3" height="5.3" fill="#454545"/>
<rect x="573.98" y="418.53" width="5.3" height="5.3" fill="#454545"/>
<rect x="595.45" y="448.26" width="5.3" height="5.3" fill="#454545"/>
<rect x="616.92" y="473.73" width="5.3" height="5.3" fill="#454545"/>
<rect x="638.38" y="490.72" width="5.3" height="5.3" fill="#454545"/>
<rect x="659.85" y="494.96" width="5.3" height="5.3" fill="#454545"/>
<polyline points="404.9,308.67 426.37,315.03 447.83,312.91 469.3,319.28 490.77,329.89 512.23,355.37 533.7,368.11 555.17,382.97 576.63,391.46 598.1,402.08 619.57,419.06 641.03,427.55 662.5,444.54" fill="none" stroke="#f08386" stroke-width="0.75"/>
<line x1="426.37" y1="312.91" x2="426.37" y2="317.16" stroke="#f3a6a8" stroke-width="1.1"/>
<line x1="424.37" y1="312.91" x2="428.37" y2="312.91" stroke="#ee8085" stroke-width="0.9"/>
<line x1="424.37" y1="317.16" x2="428.37" y2="317.16" stroke="#ee8085" stroke-width="0.9"/>
<line x1="576.63" y1="386.58" x2="576.63" y2="396.34" stroke="#f3a6a8" stroke-width="1.1"/>
<line x1="574.63" y1="386.58" x2="578.63" y2="386.58" stroke="#ee8085" stroke-width="0.9"/>
<line x1="574.63" y1="396.34" x2="578.63" y2="396.34" stroke="#ee8085" stroke-width="0.9"/>
<line x1="619.57" y1="412.69" x2="619.57" y2="425.43" stroke="#f3a6a8" stroke-width="1.1"/>
<line x1="617.57" y1="412.69" x2="621.57" y2="412.69" stroke="#ee8085" stroke-width="0.9"/>
<line x1="617.57" y1="425.43" x2="621.57" y2="425.43" stroke="#ee8085" stroke-width="0.9"/>
<line x1="662.5" y1="439.44" x2="662.5" y2="449.63" stroke="#f3a6a8" stroke-width="1.1"/>
<line x1="660.5" y1="439.44" x2="664.5" y2="439.44" stroke="#ee8085" stroke-width="0.9"/>
<line x1="660.5" y1="449.63" x2="664.5" y2="449.63" stroke="#ee8085" stroke-width="0.9"/>
<circle cx="404.9" cy="308.67" r="2.95" fill="#e8383d"/>
<circle cx="426.37" cy="315.03" r="2.95" fill="#e8383d"/>
<circle cx="447.83" cy="312.91" r="2.95" fill="#e8383d"/>
<circle cx="469.3" cy="319.28" r="2.95" fill="#e8383d"/>
<circle cx="490.77" cy="329.89" r="2.95" fill="#e8383d"/>
<circle cx="512.23" cy="355.37" r="2.95" fill="#e8383d"/>
<circle cx="533.7" cy="368.11" r="2.95" fill="#e8383d"/>
<circle cx="555.17" cy="382.97" r="2.95" fill="#e8383d"/>
<circle cx="576.63" cy="391.46" r="2.95" fill="#e8383d"/>
<circle cx="598.1" cy="402.08" r="2.95" fill="#e8383d"/>
<circle cx="619.57" cy="419.06" r="2.95" fill="#e8383d"/>
<circle cx="641.03" cy="427.55" r="2.95" fill="#e8383d"/>
<circle cx="662.5" cy="444.54" r="2.95" fill="#e8383d"/>
<text x="0" y="0" font-size="12.6" text-anchor="start" font-weight="normal" font-family='"Liberation Sans", sans-serif' fill="#111" transform="translate(360 291) scale(1 1.0)">(d)</text>
<rect x="393.8" y="276.6" width="289.8" height="233.3" fill="none" stroke="#383838" stroke-width="1.2"/>
<text x="0" y="0" font-size="13.3" text-anchor="middle" font-weight="bold" font-family='"Liberation Serif", serif' fill="#111" stroke="#111" stroke-width="0.1" transform="translate(373 393.25) rotate(-90) scale(1 1.03)">Organic Matter Content (%)</text>
<line x1="44.5" y1="784.2" x2="48.7" y2="784.2" stroke="#383838" stroke-width="1.2"/>
<text x="0" y="0" font-size="12.0" text-anchor="end" font-weight="normal" font-family='"Liberation Serif", serif' fill="#111" stroke="#111" stroke-width="0.12" transform="translate(39.2 788.3) scale(1 1.12)">17</text>
<line x1="44.5" y1="760.2" x2="48.7" y2="760.2" stroke="#383838" stroke-width="1.2"/>
<text x="0" y="0" font-size="12.0" text-anchor="end" font-weight="normal" font-family='"Liberation Serif", serif' fill="#111" stroke="#111" stroke-width="0.12" transform="translate(39.2 764.3) scale(1 1.12)">18</text>
<line x1="44.5" y1="736.2" x2="48.7" y2="736.2" stroke="#383838" stroke-width="1.2"/>
<text x="0" y="0" font-size="12.0" text-anchor="end" font-weight="normal" font-family='"Liberation Serif", serif' fill="#111" stroke="#111" stroke-width="0.12" transform="translate(39.2 740.3) scale(1 1.12)">19</text>
<line x1="44.5" y1="712.2" x2="48.7" y2="712.2" stroke="#383838" stroke-width="1.2"/>
<text x="0" y="0" font-size="12.0" text-anchor="end" font-weight="normal" font-family='"Liberation Serif", serif' fill="#111" stroke="#111" stroke-width="0.12" transform="translate(39.2 716.3) scale(1 1.12)">20</text>
<line x1="44.5" y1="688.2" x2="48.7" y2="688.2" stroke="#383838" stroke-width="1.2"/>
<text x="0" y="0" font-size="12.0" text-anchor="end" font-weight="normal" font-family='"Liberation Serif", serif' fill="#111" stroke="#111" stroke-width="0.12" transform="translate(39.2 692.3) scale(1 1.12)">21</text>
<line x1="44.5" y1="664.2" x2="48.7" y2="664.2" stroke="#383838" stroke-width="1.2"/>
<text x="0" y="0" font-size="12.0" text-anchor="end" font-weight="normal" font-family='"Liberation Serif", serif' fill="#111" stroke="#111" stroke-width="0.12" transform="translate(39.2 668.3) scale(1 1.12)">22</text>
<line x1="44.5" y1="640.2" x2="48.7" y2="640.2" stroke="#383838" stroke-width="1.2"/>
<text x="0" y="0" font-size="12.0" text-anchor="end" font-weight="normal" font-family='"Liberation Serif", serif' fill="#111" stroke="#111" stroke-width="0.12" transform="translate(39.2 644.3) scale(1 1.12)">23</text>
<line x1="44.5" y1="616.2" x2="48.7" y2="616.2" stroke="#383838" stroke-width="1.2"/>
<text x="0" y="0" font-size="12.0" text-anchor="end" font-weight="normal" font-family='"Liberation Serif", serif' fill="#111" stroke="#111" stroke-width="0.12" transform="translate(39.2 620.3) scale(1 1.12)">24</text>
<line x1="44.5" y1="592.2" x2="48.7" y2="592.2" stroke="#383838" stroke-width="1.2"/>
<text x="0" y="0" font-size="12.0" text-anchor="end" font-weight="normal" font-family='"Liberation Serif", serif' fill="#111" stroke="#111" stroke-width="0.12" transform="translate(39.2 596.3) scale(1 1.12)">25</text>
<line x1="44.5" y1="568.2" x2="48.7" y2="568.2" stroke="#383838" stroke-width="1.2"/>
<text x="0" y="0" font-size="12.0" text-anchor="end" font-weight="normal" font-family='"Liberation Serif", serif' fill="#111" stroke="#111" stroke-width="0.12" transform="translate(39.2 572.3) scale(1 1.12)">26</text>
<line x1="44.5" y1="772.2" x2="46.7" y2="772.2" stroke="#383838" stroke-width="1.2"/>
<line x1="44.5" y1="748.2" x2="46.7" y2="748.2" stroke="#383838" stroke-width="1.2"/>
<line x1="44.5" y1="724.2" x2="46.7" y2="724.2" stroke="#383838" stroke-width="1.2"/>
<line x1="44.5" y1="700.2" x2="46.7" y2="700.2" stroke="#383838" stroke-width="1.2"/>
<line x1="44.5" y1="676.2" x2="46.7" y2="676.2" stroke="#383838" stroke-width="1.2"/>
<line x1="44.5" y1="652.2" x2="46.7" y2="652.2" stroke="#383838" stroke-width="1.2"/>
<line x1="44.5" y1="628.2" x2="46.7" y2="628.2" stroke="#383838" stroke-width="1.2"/>
<line x1="44.5" y1="604.2" x2="46.7" y2="604.2" stroke="#383838" stroke-width="1.2"/>
<line x1="44.5" y1="580.2" x2="46.7" y2="580.2" stroke="#383838" stroke-width="1.2"/>
<line x1="55.4" y1="789.4" x2="55.4" y2="785.2" stroke="#383838" stroke-width="1.2"/>
<line x1="76.82" y1="789.4" x2="76.82" y2="787.2" stroke="#383838" stroke-width="1.2"/>
<line x1="98.23" y1="789.4" x2="98.23" y2="785.2" stroke="#383838" stroke-width="1.2"/>
<line x1="119.65" y1="789.4" x2="119.65" y2="787.2" stroke="#383838" stroke-width="1.2"/>
<line x1="141.07" y1="789.4" x2="141.07" y2="785.2" stroke="#383838" stroke-width="1.2"/>
<line x1="162.48" y1="789.4" x2="162.48" y2="787.2" stroke="#383838" stroke-width="1.2"/>
<line x1="183.9" y1="789.4" x2="183.9" y2="785.2" stroke="#383838" stroke-width="1.2"/>
<line x1="205.32" y1="789.4" x2="205.32" y2="787.2" stroke="#383838" stroke-width="1.2"/>
<line x1="226.73" y1="789.4" x2="226.73" y2="785.2" stroke="#383838" stroke-width="1.2"/>
<line x1="248.15" y1="789.4" x2="248.15" y2="787.2" stroke="#383838" stroke-width="1.2"/>
<line x1="269.57" y1="789.4" x2="269.57" y2="785.2" stroke="#383838" stroke-width="1.2"/>
<line x1="290.98" y1="789.4" x2="290.98" y2="787.2" stroke="#383838" stroke-width="1.2"/>
<line x1="312.4" y1="789.4" x2="312.4" y2="785.2" stroke="#383838" stroke-width="1.2"/>
<text x="0" y="0" font-size="12.0" text-anchor="middle" font-weight="normal" font-family='"Liberation Serif", serif' fill="#111" stroke="#111" stroke-width="0.12" transform="translate(55.4 804.2) scale(1 1.12)">0</text>
<text x="0" y="0" font-size="12.0" text-anchor="middle" font-weight="normal" font-family='"Liberation Serif", serif' fill="#111" stroke="#111" stroke-width="0.12" transform="translate(98.23 804.2) scale(1 1.12)">2</text>
<text x="0" y="0" font-size="12.0" text-anchor="middle" font-weight="normal" font-family='"Liberation Serif", serif' fill="#111" stroke="#111" stroke-width="0.12" transform="translate(141.07 804.2) scale(1 1.12)">4</text>
<text x="0" y="0" font-size="12.0" text-anchor="middle" font-weight="normal" font-family='"Liberation Serif", serif' fill="#111" stroke="#111" stroke-width="0.12" transform="translate(183.9 804.2) scale(1 1.12)">6</text>
<text x="0" y="0" font-size="12.0" text-anchor="middle" font-weight="normal" font-family='"Liberation Serif", serif' fill="#111" stroke="#111" stroke-width="0.12" transform="translate(226.73 804.2) scale(1 1.12)">8</text>
<text x="0" y="0" font-size="12.0" text-anchor="middle" font-weight="normal" font-family='"Liberation Serif", serif' fill="#111" stroke="#111" stroke-width="0.12" transform="translate(269.57 804.2) scale(1 1.12)">10</text>
<text x="0" y="0" font-size="12.0" text-anchor="middle" font-weight="normal" font-family='"Liberation Serif", serif' fill="#111" stroke="#111" stroke-width="0.12" transform="translate(312.4 804.2) scale(1 1.12)">12</text>
<text x="0" y="0" font-size="13.3" text-anchor="middle" font-weight="bold" font-family='"Liberation Serif", serif' fill="#111" stroke="#111" stroke-width="0.1" transform="translate(189.25 816) scale(1 1.03)">Time (h)</text>
<rect x="250" y="556.4" width="84" height="31" fill="#fff" stroke="#6a6a6a" stroke-width="0.9"/>
<line x1="260.4" y1="564" x2="290" y2="564" stroke="#999999" stroke-width="0.9"/>
<rect x="272.55" y="561.35" width="5.3" height="5.3" fill="#454545"/>
<line x1="260.4" y1="580.4" x2="290" y2="580.4" stroke="#f08386" stroke-width="0.75"/>
<circle cx="275.2" cy="580.4" r="2.95" fill="#e8383d"/>
<text x="0" y="0" font-size="13.3" text-anchor="start" font-weight="normal" font-family='"Liberation Serif", serif' fill="#111" stroke="#111" stroke-width="0.12" transform="translate(303 569.9) scale(1 1.12)">EG</text>
<text x="0" y="0" font-size="13.3" text-anchor="start" font-weight="normal" font-family='"Liberation Serif", serif' fill="#111" stroke="#111" stroke-width="0.12" transform="translate(303 586.3) scale(1 1.12)">CG</text>
<polyline points="55.7,590.25 77.12,626.25 98.53,650.25 119.95,657.45 141.37,662.25 162.78,679.05 184.2,698.25 205.62,712.65 227.03,724.65 248.45,741.45 269.87,760.65 291.28,765.45 312.7,772.65" fill="none" stroke="#999999" stroke-width="0.9"/>
<line x1="119.95" y1="651.93" x2="119.95" y2="662.97" stroke="#bdbdbd" stroke-width="1.1"/>
<line x1="117.95" y1="651.93" x2="121.95" y2="651.93" stroke="#7a7a7a" stroke-width="0.9"/>
<line x1="117.95" y1="662.97" x2="121.95" y2="662.97" stroke="#7a7a7a" stroke-width="0.9"/>
<line x1="162.78" y1="671.61" x2="162.78" y2="686.49" stroke="#bdbdbd" stroke-width="1.1"/>
<line x1="160.78" y1="671.61" x2="164.78" y2="671.61" stroke="#7a7a7a" stroke-width="0.9"/>
<line x1="160.78" y1="686.49" x2="164.78" y2="686.49" stroke="#7a7a7a" stroke-width="0.9"/>
<line x1="184.2" y1="693.45" x2="184.2" y2="703.05" stroke="#bdbdbd" stroke-width="1.1"/>
<line x1="182.2" y1="693.45" x2="186.2" y2="693.45" stroke="#7a7a7a" stroke-width="0.9"/>
<line x1="182.2" y1="703.05" x2="186.2" y2="703.05" stroke="#7a7a7a" stroke-width="0.9"/>
<line x1="269.87" y1="755.85" x2="269.87" y2="765.45" stroke="#bdbdbd" stroke-width="1.1"/>
<line x1="267.87" y1="755.85" x2="271.87" y2="755.85" stroke="#7a7a7a" stroke-width="0.9"/>
<line x1="267.87" y1="765.45" x2="271.87" y2="765.45" stroke="#7a7a7a" stroke-width="0.9"/>
<line x1="312.7" y1="765.45" x2="312.7" y2="779.85" stroke="#bdbdbd" stroke-width="1.1"/>
<line x1="310.7" y1="765.45" x2="314.7" y2="765.45" stroke="#7a7a7a" stroke-width="0.9"/>
<line x1="310.7" y1="779.85" x2="314.7" y2="779.85" stroke="#7a7a7a" stroke-width="0.9"/>
<rect x="53.05" y="587.6" width="5.3" height="5.3" fill="#454545"/>
<rect x="74.47" y="623.6" width="5.3" height="5.3" fill="#454545"/>
<rect x="95.88" y="647.6" width="5.3" height="5.3" fill="#454545"/>
<rect x="117.3" y="654.8" width="5.3" height="5.3" fill="#454545"/>
<rect x="138.72" y="659.6" width="5.3" height="5.3" fill="#454545"/>
<rect x="160.13" y="676.4" width="5.3" height="5.3" fill="#454545"/>
<rect x="181.55" y="695.6" width="5.3" height="5.3" fill="#454545"/>
<rect x="202.97" y="710" width="5.3" height="5.3" fill="#454545"/>
<rect x="224.38" y="722" width="5.3" height="5.3" fill="#454545"/>
<rect x="245.8" y="738.8" width="5.3" height="5.3" fill="#454545"/>
<rect x="267.22" y="758" width="5.3" height="5.3" fill="#454545"/>
<rect x="288.63" y="762.8" width="5.3" height="5.3" fill="#454545"/>
<rect x="310.05" y="770" width="5.3" height="5.3" fill="#454545"/>
<polyline points="55.7,590.25 77.12,595.05 98.53,599.85 119.95,607.05 141.37,614.25 162.78,621.45 184.2,628.65 205.62,633.45 227.03,638.25 248.45,647.85 269.87,652.65 291.28,657.45 312.7,664.65" fill="none" stroke="#f08386" stroke-width="0.75"/>
<line x1="77.12" y1="591.45" x2="77.12" y2="598.65" stroke="#f3a6a8" stroke-width="1.1"/>
<line x1="75.12" y1="591.45" x2="79.12" y2="591.45" stroke="#ee8085" stroke-width="0.9"/>
<line x1="75.12" y1="598.65" x2="79.12" y2="598.65" stroke="#ee8085" stroke-width="0.9"/>
<line x1="98.53" y1="596.73" x2="98.53" y2="602.97" stroke="#f3a6a8" stroke-width="1.1"/>
<line x1="96.53" y1="596.73" x2="100.53" y2="596.73" stroke="#ee8085" stroke-width="0.9"/>
<line x1="96.53" y1="602.97" x2="100.53" y2="602.97" stroke="#ee8085" stroke-width="0.9"/>
<line x1="119.95" y1="601.29" x2="119.95" y2="612.81" stroke="#f3a6a8" stroke-width="1.1"/>
<line x1="117.95" y1="601.29" x2="121.95" y2="601.29" stroke="#ee8085" stroke-width="0.9"/>
<line x1="117.95" y1="612.81" x2="121.95" y2="612.81" stroke="#ee8085" stroke-width="0.9"/>
<line x1="205.62" y1="626.49" x2="205.62" y2="640.41" stroke="#f3a6a8" stroke-width="1.1"/>
<line x1="203.62" y1="626.49" x2="207.62" y2="626.49" stroke="#ee8085" stroke-width="0.9"/>
<line x1="203.62" y1="640.41" x2="207.62" y2="640.41" stroke="#ee8085" stroke-width="0.9"/>
<line x1="248.45" y1="642.09" x2="248.45" y2="653.61" stroke="#f3a6a8" stroke-width="1.1"/>
<line x1="246.45" y1="642.09" x2="250.45" y2="642.09" stroke="#ee8085" stroke-width="0.9"/>
<line x1="246.45" y1="653.61" x2="250.45" y2="653.61" stroke="#ee8085" stroke-width="0.9"/>
<line x1="291.28" y1="655.05" x2="291.28" y2="659.85" stroke="#f3a6a8" stroke-width="1.1"/>
<line x1="289.28" y1="655.05" x2="293.28" y2="655.05" stroke="#ee8085" stroke-width="0.9"/>
<line x1="289.28" y1="659.85" x2="293.28" y2="659.85" stroke="#ee8085" stroke-width="0.9"/>
<circle cx="55.7" cy="590.25" r="2.95" fill="#e8383d"/>
<circle cx="77.12" cy="595.05" r="2.95" fill="#e8383d"/>
<circle cx="98.53" cy="599.85" r="2.95" fill="#e8383d"/>
<circle cx="119.95" cy="607.05" r="2.95" fill="#e8383d"/>
<circle cx="141.37" cy="614.25" r="2.95" fill="#e8383d"/>
<circle cx="162.78" cy="621.45" r="2.95" fill="#e8383d"/>
<circle cx="184.2" cy="628.65" r="2.95" fill="#e8383d"/>
<circle cx="205.62" cy="633.45" r="2.95" fill="#e8383d"/>
<circle cx="227.03" cy="638.25" r="2.95" fill="#e8383d"/>
<circle cx="248.45" cy="647.85" r="2.95" fill="#e8383d"/>
<circle cx="269.87" cy="652.65" r="2.95" fill="#e8383d"/>
<circle cx="291.28" cy="657.45" r="2.95" fill="#e8383d"/>
<circle cx="312.7" cy="664.65" r="2.95" fill="#e8383d"/>
<text x="0" y="0" font-size="12.6" text-anchor="start" font-weight="normal" font-family='"Liberation Sans", sans-serif' fill="#111" transform="translate(8.5 572.5) scale(1 1.0)">(e)</text>
<rect x="44.5" y="556.4" width="289.5" height="233" fill="none" stroke="#383838" stroke-width="1.2"/>
<text x="0" y="0" font-size="13.3" text-anchor="middle" font-weight="normal" font-family='"Liberation Serif", serif' fill="#111" stroke="#111" stroke-width="0.12" transform="translate(22 674.6) rotate(-90) scale(1 1.0)">C/N</text>
<line x1="394.5" y1="789" x2="398.7" y2="789" stroke="#383838" stroke-width="1.2"/>
<text x="0" y="0" font-size="12.0" text-anchor="end" font-weight="normal" font-family='"Liberation Serif", serif' fill="#111" stroke="#111" stroke-width="0.12" transform="translate(389.2 793.1) scale(1 1.12)">0</text>
<line x1="394.5" y1="737.12" x2="398.7" y2="737.12" stroke="#383838" stroke-width="1.2"/>
<text x="0" y="0" font-size="12.0" text-anchor="end" font-weight="normal" font-family='"Liberation Serif", serif' fill="#111" stroke="#111" stroke-width="0.12" transform="translate(389.2 741.23) scale(1 1.12)">50</text>
<line x1="394.5" y1="685.25" x2="398.7" y2="685.25" stroke="#383838" stroke-width="1.2"/>
<text x="0" y="0" font-size="12.0" text-anchor="end" font-weight="normal" font-family='"Liberation Serif", serif' fill="#111" stroke="#111" stroke-width="0.12" transform="translate(389.2 689.35) scale(1 1.12)">100</text>
<line x1="394.5" y1="633.38" x2="398.7" y2="633.38" stroke="#383838" stroke-width="1.2"/>
<text x="0" y="0" font-size="12.0" text-anchor="end" font-weight="normal" font-family='"Liberation Serif", serif' fill="#111" stroke="#111" stroke-width="0.12" transform="translate(389.2 637.48) scale(1 1.12)">150</text>
<line x1="394.5" y1="581.5" x2="398.7" y2="581.5" stroke="#383838" stroke-width="1.2"/>
<text x="0" y="0" font-size="12.0" text-anchor="end" font-weight="normal" font-family='"Liberation Serif", serif' fill="#111" stroke="#111" stroke-width="0.12" transform="translate(389.2 585.6) scale(1 1.12)">200</text>
<line x1="394.5" y1="763.06" x2="396.7" y2="763.06" stroke="#383838" stroke-width="1.2"/>
<line x1="394.5" y1="711.19" x2="396.7" y2="711.19" stroke="#383838" stroke-width="1.2"/>
<line x1="394.5" y1="659.31" x2="396.7" y2="659.31" stroke="#383838" stroke-width="1.2"/>
<line x1="394.5" y1="607.44" x2="396.7" y2="607.44" stroke="#383838" stroke-width="1.2"/>
<text x="0" y="0" font-size="12.0" text-anchor="middle" font-weight="normal" font-family='"Liberation Serif", serif' fill="#111" stroke="#111" stroke-width="0.12" transform="translate(411.6 803.6) scale(1 1.12)">0</text>
<text x="0" y="0" font-size="12.0" text-anchor="middle" font-weight="normal" font-family='"Liberation Serif", serif' fill="#111" stroke="#111" stroke-width="0.12" transform="translate(433.4 803.6) scale(1 1.12)">1</text>
<text x="0" y="0" font-size="12.0" text-anchor="middle" font-weight="normal" font-family='"Liberation Serif", serif' fill="#111" stroke="#111" stroke-width="0.12" transform="translate(455.2 803.6) scale(1 1.12)">2</text>
<text x="0" y="0" font-size="12.0" text-anchor="middle" font-weight="normal" font-family='"Liberation Serif", serif' fill="#111" stroke="#111" stroke-width="0.12" transform="translate(477 803.6) scale(1 1.12)">3</text>
<text x="0" y="0" font-size="12.0" text-anchor="middle" font-weight="normal" font-family='"Liberation Serif", serif' fill="#111" stroke="#111" stroke-width="0.12" transform="translate(498.8 803.6) scale(1 1.12)">4</text>
<text x="0" y="0" font-size="12.0" text-anchor="middle" font-weight="normal" font-family='"Liberation Serif", serif' fill="#111" stroke="#111" stroke-width="0.12" transform="translate(520.6 803.6) scale(1 1.12)">5</text>
<text x="0" y="0" font-size="12.0" text-anchor="middle" font-weight="normal" font-family='"Liberation Serif", serif' fill="#111" stroke="#111" stroke-width="0.12" transform="translate(542.4 803.6) scale(1 1.12)">6</text>
<text x="0" y="0" font-size="12.0" text-anchor="middle" font-weight="normal" font-family='"Liberation Serif", serif' fill="#111" stroke="#111" stroke-width="0.12" transform="translate(564.2 803.6) scale(1 1.12)">7</text>
<text x="0" y="0" font-size="12.0" text-anchor="middle" font-weight="normal" font-family='"Liberation Serif", serif' fill="#111" stroke="#111" stroke-width="0.12" transform="translate(586 803.6) scale(1 1.12)">8</text>
<text x="0" y="0" font-size="12.0" text-anchor="middle" font-weight="normal" font-family='"Liberation Serif", serif' fill="#111" stroke="#111" stroke-width="0.12" transform="translate(607.8 803.6) scale(1 1.12)">9</text>
<text x="0" y="0" font-size="12.0" text-anchor="middle" font-weight="normal" font-family='"Liberation Serif", serif' fill="#111" stroke="#111" stroke-width="0.12" transform="translate(629.6 803.6) scale(1 1.12)">10</text>
<text x="0" y="0" font-size="12.0" text-anchor="middle" font-weight="normal" font-family='"Liberation Serif", serif' fill="#111" stroke="#111" stroke-width="0.12" transform="translate(651.4 803.6) scale(1 1.12)">11</text>
<text x="0" y="0" font-size="12.0" text-anchor="middle" font-weight="normal" font-family='"Liberation Serif", serif' fill="#111" stroke="#111" stroke-width="0.12" transform="translate(673.2 803.6) scale(1 1.12)">12</text>
<text x="0" y="0" font-size="13.3" text-anchor="middle" font-weight="bold" font-family='"Liberation Serif", serif' fill="#111" stroke="#111" stroke-width="0.1" transform="translate(539.15 815.6) scale(1 1.03)">Time (h)</text>
<rect x="403" y="763.48" width="8.6" height="25.52" fill="#fdc896" stroke="#2e2e2e" stroke-width="1"/>
<rect x="411.6" y="763.06" width="8.6" height="25.94" fill="#9dd79b" stroke="#2e2e2e" stroke-width="1"/>
<rect x="424.8" y="623.62" width="8.6" height="165.38" fill="#fdc896" stroke="#2e2e2e" stroke-width="1"/>
<rect x="433.4" y="764.1" width="8.6" height="24.9" fill="#9dd79b" stroke="#2e2e2e" stroke-width="1"/>
<rect x="446.6" y="624.56" width="8.6" height="164.44" fill="#fdc896" stroke="#2e2e2e" stroke-width="1"/>
<rect x="455.2" y="765.14" width="8.6" height="23.86" fill="#9dd79b" stroke="#2e2e2e" stroke-width="1"/>
<rect x="468.4" y="631.82" width="8.6" height="157.18" fill="#fdc896" stroke="#2e2e2e" stroke-width="1"/>
<rect x="477" y="762.75" width="8.6" height="26.25" fill="#9dd79b" stroke="#2e2e2e" stroke-width="1"/>
<rect x="490.2" y="626.53" width="8.6" height="162.47" fill="#fdc896" stroke="#2e2e2e" stroke-width="1"/>
<rect x="498.8" y="764.1" width="8.6" height="24.9" fill="#9dd79b" stroke="#2e2e2e" stroke-width="1"/>
<rect x="512" y="621.13" width="8.6" height="167.87" fill="#fdc896" stroke="#2e2e2e" stroke-width="1"/>
<rect x="520.6" y="764.1" width="8.6" height="24.9" fill="#9dd79b" stroke="#2e2e2e" stroke-width="1"/>
<rect x="533.8" y="612.83" width="8.6" height="176.17" fill="#fdc896" stroke="#2e2e2e" stroke-width="1"/>
<rect x="542.4" y="765.55" width="8.6" height="23.45" fill="#9dd79b" stroke="#2e2e2e" stroke-width="1"/>
<rect x="555.6" y="611.07" width="8.6" height="177.93" fill="#fdc896" stroke="#2e2e2e" stroke-width="1"/>
<rect x="564.2" y="752.69" width="8.6" height="36.31" fill="#9dd79b" stroke="#2e2e2e" stroke-width="1"/>
<rect x="577.4" y="607.85" width="8.6" height="181.15" fill="#fdc896" stroke="#2e2e2e" stroke-width="1"/>
<rect x="586" y="749.06" width="8.6" height="39.94" fill="#9dd79b" stroke="#2e2e2e" stroke-width="1"/>
<rect x="599.2" y="599.45" width="8.6" height="189.55" fill="#fdc896" stroke="#2e2e2e" stroke-width="1"/>
<rect x="607.8" y="752.27" width="8.6" height="36.73" fill="#9dd79b" stroke="#2e2e2e" stroke-width="1"/>
<rect x="621" y="600.69" width="8.6" height="188.31" fill="#fdc896" stroke="#2e2e2e" stroke-width="1"/>
<rect x="629.6" y="749.58" width="8.6" height="39.42" fill="#9dd79b" stroke="#2e2e2e" stroke-width="1"/>
<rect x="642.8" y="592.6" width="8.6" height="196.4" fill="#fdc896" stroke="#2e2e2e" stroke-width="1"/>
<rect x="651.4" y="742.31" width="8.6" height="46.69" fill="#9dd79b" stroke="#2e2e2e" stroke-width="1"/>
<rect x="664.6" y="580.67" width="8.6" height="208.33" fill="#fdc896" stroke="#2e2e2e" stroke-width="1"/>
<rect x="673.2" y="739.51" width="8.6" height="49.49" fill="#9dd79b" stroke="#2e2e2e" stroke-width="1"/>
<line x1="407.3" y1="762.44" x2="407.3" y2="764.51" stroke="#959595" stroke-width="1.0"/>
<line x1="405.3" y1="762.44" x2="409.3" y2="762.44" stroke="#555" stroke-width="0.9"/>
<line x1="405.3" y1="764.51" x2="409.3" y2="764.51" stroke="#555" stroke-width="0.9"/>
<line x1="415.9" y1="762.02" x2="415.9" y2="764.1" stroke="#959595" stroke-width="1.0"/>
<line x1="413.9" y1="762.02" x2="417.9" y2="762.02" stroke="#555" stroke-width="0.9"/>
<line x1="413.9" y1="764.1" x2="417.9" y2="764.1" stroke="#555" stroke-width="0.9"/>
<line x1="429.1" y1="616.46" x2="429.1" y2="630.78" stroke="#959595" stroke-width="1.0"/>
<line x1="427.1" y1="616.46" x2="431.1" y2="616.46" stroke="#555" stroke-width="0.9"/>
<line x1="427.1" y1="630.78" x2="431.1" y2="630.78" stroke="#555" stroke-width="0.9"/>
<line x1="437.7" y1="757.88" x2="437.7" y2="770.33" stroke="#959595" stroke-width="1.0"/>
<line x1="435.7" y1="757.88" x2="439.7" y2="757.88" stroke="#555" stroke-width="0.9"/>
<line x1="435.7" y1="770.33" x2="439.7" y2="770.33" stroke="#555" stroke-width="0.9"/>
<line x1="450.9" y1="620.41" x2="450.9" y2="628.71" stroke="#959595" stroke-width="1.0"/>
<line x1="448.9" y1="620.41" x2="452.9" y2="620.41" stroke="#555" stroke-width="0.9"/>
<line x1="448.9" y1="628.71" x2="452.9" y2="628.71" stroke="#555" stroke-width="0.9"/>
<line x1="459.5" y1="756.84" x2="459.5" y2="773.44" stroke="#959595" stroke-width="1.0"/>
<line x1="457.5" y1="756.84" x2="461.5" y2="756.84" stroke="#555" stroke-width="0.9"/>
<line x1="457.5" y1="773.44" x2="461.5" y2="773.44" stroke="#555" stroke-width="0.9"/>
<line x1="472.7" y1="628.81" x2="472.7" y2="634.83" stroke="#959595" stroke-width="1.0"/>
<line x1="470.7" y1="628.81" x2="474.7" y2="628.81" stroke="#555" stroke-width="0.9"/>
<line x1="470.7" y1="634.83" x2="474.7" y2="634.83" stroke="#555" stroke-width="0.9"/>
<line x1="481.3" y1="757.56" x2="481.3" y2="767.94" stroke="#959595" stroke-width="1.0"/>
<line x1="479.3" y1="757.56" x2="483.3" y2="757.56" stroke="#555" stroke-width="0.9"/>
<line x1="479.3" y1="767.94" x2="483.3" y2="767.94" stroke="#555" stroke-width="0.9"/>
<line x1="494.5" y1="619.47" x2="494.5" y2="633.58" stroke="#959595" stroke-width="1.0"/>
<line x1="492.5" y1="619.47" x2="496.5" y2="619.47" stroke="#555" stroke-width="0.9"/>
<line x1="492.5" y1="633.58" x2="496.5" y2="633.58" stroke="#555" stroke-width="0.9"/>
<line x1="503.1" y1="759.95" x2="503.1" y2="768.25" stroke="#959595" stroke-width="1.0"/>
<line x1="501.1" y1="759.95" x2="505.1" y2="759.95" stroke="#555" stroke-width="0.9"/>
<line x1="501.1" y1="768.25" x2="505.1" y2="768.25" stroke="#555" stroke-width="0.9"/>
<line x1="516.3" y1="616.57" x2="516.3" y2="625.7" stroke="#959595" stroke-width="1.0"/>
<line x1="514.3" y1="616.57" x2="518.3" y2="616.57" stroke="#555" stroke-width="0.9"/>
<line x1="514.3" y1="625.7" x2="518.3" y2="625.7" stroke="#555" stroke-width="0.9"/>
<line x1="524.9" y1="757.88" x2="524.9" y2="770.33" stroke="#959595" stroke-width="1.0"/>
<line x1="522.9" y1="757.88" x2="526.9" y2="757.88" stroke="#555" stroke-width="0.9"/>
<line x1="522.9" y1="770.33" x2="526.9" y2="770.33" stroke="#555" stroke-width="0.9"/>
<line x1="538.1" y1="603.5" x2="538.1" y2="622.17" stroke="#959595" stroke-width="1.0"/>
<line x1="536.1" y1="603.5" x2="540.1" y2="603.5" stroke="#555" stroke-width="0.9"/>
<line x1="536.1" y1="622.17" x2="540.1" y2="622.17" stroke="#555" stroke-width="0.9"/>
<line x1="546.7" y1="758.81" x2="546.7" y2="772.3" stroke="#959595" stroke-width="1.0"/>
<line x1="544.7" y1="758.81" x2="548.7" y2="758.81" stroke="#555" stroke-width="0.9"/>
<line x1="544.7" y1="772.3" x2="548.7" y2="772.3" stroke="#555" stroke-width="0.9"/>
<line x1="559.9" y1="606.92" x2="559.9" y2="615.22" stroke="#959595" stroke-width="1.0"/>
<line x1="557.9" y1="606.92" x2="561.9" y2="606.92" stroke="#555" stroke-width="0.9"/>
<line x1="557.9" y1="615.22" x2="561.9" y2="615.22" stroke="#555" stroke-width="0.9"/>
<line x1="568.5" y1="750.4" x2="568.5" y2="754.97" stroke="#959595" stroke-width="1.0"/>
<line x1="566.5" y1="750.4" x2="570.5" y2="750.4" stroke="#555" stroke-width="0.9"/>
<line x1="566.5" y1="754.97" x2="570.5" y2="754.97" stroke="#555" stroke-width="0.9"/>
<line x1="581.7" y1="602.66" x2="581.7" y2="613.04" stroke="#959595" stroke-width="1.0"/>
<line x1="579.7" y1="602.66" x2="583.7" y2="602.66" stroke="#555" stroke-width="0.9"/>
<line x1="579.7" y1="613.04" x2="583.7" y2="613.04" stroke="#555" stroke-width="0.9"/>
<line x1="590.3" y1="742.83" x2="590.3" y2="755.28" stroke="#959595" stroke-width="1.0"/>
<line x1="588.3" y1="742.83" x2="592.3" y2="742.83" stroke="#555" stroke-width="0.9"/>
<line x1="588.3" y1="755.28" x2="592.3" y2="755.28" stroke="#555" stroke-width="0.9"/>
<line x1="603.5" y1="594.26" x2="603.5" y2="604.64" stroke="#959595" stroke-width="1.0"/>
<line x1="601.5" y1="594.26" x2="605.5" y2="594.26" stroke="#555" stroke-width="0.9"/>
<line x1="601.5" y1="604.64" x2="605.5" y2="604.64" stroke="#555" stroke-width="0.9"/>
<line x1="612.1" y1="743.97" x2="612.1" y2="760.57" stroke="#959595" stroke-width="1.0"/>
<line x1="610.1" y1="743.97" x2="614.1" y2="743.97" stroke="#555" stroke-width="0.9"/>
<line x1="610.1" y1="760.57" x2="614.1" y2="760.57" stroke="#555" stroke-width="0.9"/>
<line x1="625.3" y1="593.43" x2="625.3" y2="607.96" stroke="#959595" stroke-width="1.0"/>
<line x1="623.3" y1="593.43" x2="627.3" y2="593.43" stroke="#555" stroke-width="0.9"/>
<line x1="623.3" y1="607.96" x2="627.3" y2="607.96" stroke="#555" stroke-width="0.9"/>
<line x1="633.9" y1="740.24" x2="633.9" y2="758.91" stroke="#959595" stroke-width="1.0"/>
<line x1="631.9" y1="740.24" x2="635.9" y2="740.24" stroke="#555" stroke-width="0.9"/>
<line x1="631.9" y1="758.91" x2="635.9" y2="758.91" stroke="#555" stroke-width="0.9"/>
<line x1="647.1" y1="591.77" x2="647.1" y2="593.43" stroke="#959595" stroke-width="1.0"/>
<line x1="645.1" y1="591.77" x2="649.1" y2="591.77" stroke="#555" stroke-width="0.9"/>
<line x1="645.1" y1="593.43" x2="649.1" y2="593.43" stroke="#555" stroke-width="0.9"/>
<line x1="655.7" y1="737.33" x2="655.7" y2="747.29" stroke="#959595" stroke-width="1.0"/>
<line x1="653.7" y1="737.33" x2="657.7" y2="737.33" stroke="#555" stroke-width="0.9"/>
<line x1="653.7" y1="747.29" x2="657.7" y2="747.29" stroke="#555" stroke-width="0.9"/>
<line x1="668.9" y1="576.52" x2="668.9" y2="584.82" stroke="#959595" stroke-width="1.0"/>
<line x1="666.9" y1="576.52" x2="670.9" y2="576.52" stroke="#555" stroke-width="0.9"/>
<line x1="666.9" y1="584.82" x2="670.9" y2="584.82" stroke="#555" stroke-width="0.9"/>
<line x1="677.5" y1="738.68" x2="677.5" y2="740.34" stroke="#959595" stroke-width="1.0"/>
<line x1="675.5" y1="738.68" x2="679.5" y2="738.68" stroke="#555" stroke-width="0.9"/>
<line x1="675.5" y1="740.34" x2="679.5" y2="740.34" stroke="#555" stroke-width="0.9"/>
<rect x="401.2" y="556.8" width="84.8" height="31.6" fill="#fff" stroke="#8a8a8a" stroke-width="0.9"/>
<rect x="414.4" y="558.4" width="26.5" height="13" fill="#fdc896" stroke="#2e2e2e" stroke-width="1"/>
<rect x="414.4" y="573.4" width="26.5" height="13.1" fill="#9dd79b" stroke="#2e2e2e" stroke-width="1"/>
<text x="0" y="0" font-size="13.3" text-anchor="start" font-weight="normal" font-family='"Liberation Serif", serif' fill="#111" stroke="#111" stroke-width="0.12" transform="translate(450 568.8) scale(1 1.12)">EG</text>
<text x="0" y="0" font-size="13.3" text-anchor="start" font-weight="normal" font-family='"Liberation Serif", serif' fill="#111" stroke="#111" stroke-width="0.12" transform="translate(450 583.6) scale(1 1.12)">CG</text>
<text x="0" y="0" font-size="12.6" text-anchor="start" font-weight="normal" font-family='"Liberation Sans", sans-serif' fill="#111" transform="translate(365.3 570) scale(1 1.0)">(f)</text>
<rect x="394.5" y="555.7" width="289.3" height="233.3" fill="none" stroke="#383838" stroke-width="1.2"/>
<text x="0" y="0" font-size="13.3" text-anchor="middle" font-weight="bold" font-family='"Liberation Serif", serif' fill="#111" stroke="#111" stroke-width="0.1" transform="translate(366.5 672.35) rotate(-90) scale(1 1.03)">SCOD (g/mL)</text>
</svg>
</body></html>
